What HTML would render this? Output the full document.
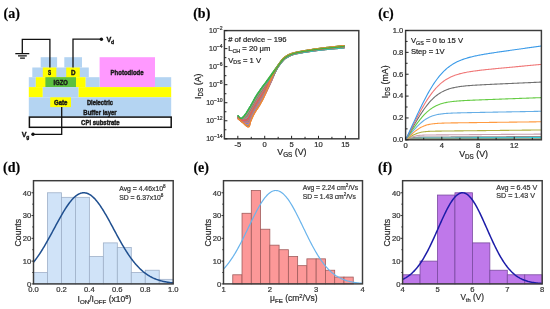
<!DOCTYPE html>
<html><head><meta charset="utf-8"><style>
html,body{margin:0;padding:0;background:#fff;width:550px;height:309px;overflow:hidden}
svg{display:block;will-change:transform}
text{stroke:#2a2a2a;stroke-width:0.22px}
text.b{stroke:#1a1a1a;stroke-width:0.45px}
text.v{stroke:#111;stroke-width:0.35px}
</style></head><body>
<svg width="550" height="309" viewBox="0 0 550 309">
<rect width="550" height="309" fill="#fff"/>
<text x="3.50" y="18.10" font-size="14" text-anchor="start" font-weight="bold" fill="#000" font-family='"Liberation Serif", serif' >(a)</text>
<text x="193.20" y="18.20" font-size="14" text-anchor="start" font-weight="bold" fill="#000" font-family='"Liberation Serif", serif' >(b)</text>
<text x="378.20" y="18.20" font-size="14" text-anchor="start" font-weight="bold" fill="#000" font-family='"Liberation Serif", serif' >(c)</text>
<text x="3.10" y="171.60" font-size="14" text-anchor="start" font-weight="bold" fill="#000" font-family='"Liberation Serif", serif' >(d)</text>
<text x="193.40" y="171.70" font-size="14" text-anchor="start" font-weight="bold" fill="#000" font-family='"Liberation Serif", serif' >(e)</text>
<text x="378.10" y="171.70" font-size="14" text-anchor="start" font-weight="bold" fill="#000" font-family='"Liberation Serif", serif' >(f)</text>
<rect x="40.70" y="57.20" width="16.40" height="10.30" fill="#b4d4f2" />
<rect x="64.30" y="57.20" width="17.70" height="10.30" fill="#b4d4f2" />
<rect x="99.60" y="57.20" width="55.40" height="29.90" fill="#ff99ff" />
<rect x="32.30" y="67.50" width="56.50" height="9.70" fill="#b4d4f2" />
<rect x="42.80" y="67.50" width="13.50" height="9.70" fill="#ffff00" />
<rect x="66.20" y="67.50" width="13.60" height="9.70" fill="#ffff00" />
<rect x="28.80" y="77.20" width="7.00" height="9.90" fill="#b4d4f2" />
<rect x="35.80" y="77.20" width="49.90" height="9.90" fill="#ffff00" />
<rect x="45.40" y="77.20" width="30.60" height="9.90" fill="#5cc040" />
<rect x="85.70" y="77.20" width="13.90" height="9.90" fill="#b4d4f2" />
<rect x="155.00" y="77.20" width="16.20" height="9.90" fill="#b4d4f2" />
<rect x="28.80" y="87.10" width="14.00" height="10.20" fill="#ffff00" />
<rect x="42.80" y="87.10" width="35.80" height="10.20" fill="#b4d4f2" />
<rect x="78.60" y="87.10" width="92.60" height="10.20" fill="#ffff00" />
<rect x="28.80" y="97.30" width="142.40" height="19.50" fill="#b4d4f2" />
<rect x="50.20" y="97.30" width="20.80" height="9.80" fill="#ffff00" />
<rect x="29.4" y="117.1" width="141.8" height="10.2" fill="#fff" stroke="#111" stroke-width="1.5"/>
<path d="M22.3,53.7 L22.3,39.3 L49.9,39.3 L49.9,67.5" stroke="#111" stroke-width="1.3" fill="none"/>
<path d="M15.3,53.7 L29.3,53.7 M18.0,55.9 L26.8,55.9 M20.1,58.1 L24.9,58.1" stroke="#111" stroke-width="1.3" fill="none"/>
<path d="M73.0,67.5 L73.0,39.2 L101.4,39.2" stroke="#111" stroke-width="1.3" fill="none"/>
<circle cx="101.4" cy="39.2" r="1.7" fill="#111"/>
<path d="M61.7,107.1 L61.7,134.3 L33.0,134.3" stroke="#111" stroke-width="1.3" fill="none"/>
<circle cx="33.0" cy="134.3" r="1.7" fill="#111"/>
<text x="106.40" y="41.80" font-size="7.2" text-anchor="start" font-weight="bold" fill="#111" font-family='"Liberation Sans", sans-serif' class="v">V</text>
<text x="111.00" y="43.70" font-size="5.0" text-anchor="start" font-weight="bold" fill="#111" font-family='"Liberation Sans", sans-serif' class="v">d</text>
<text x="21.80" y="137.00" font-size="7.2" text-anchor="start" font-weight="bold" fill="#111" font-family='"Liberation Sans", sans-serif' class="v">V</text>
<text x="26.30" y="139.00" font-size="5.0" text-anchor="start" font-weight="bold" fill="#111" font-family='"Liberation Sans", sans-serif' class="v">g</text>
<text x="48.00" y="74.50" font-size="6.6" text-anchor="start" font-weight="bold" fill="#1a1a1a" font-family='"Liberation Sans", sans-serif' textLength="3.1" lengthAdjust="spacingAndGlyphs" class="b">S</text>
<text x="71.00" y="74.50" font-size="6.6" text-anchor="start" font-weight="bold" fill="#1a1a1a" font-family='"Liberation Sans", sans-serif' textLength="4.5" lengthAdjust="spacingAndGlyphs" class="b">D</text>
<text x="53.60" y="84.80" font-size="6.6" text-anchor="start" font-weight="bold" fill="#1a1a1a" font-family='"Liberation Sans", sans-serif' textLength="14.2" lengthAdjust="spacingAndGlyphs" class="b">IGZO</text>
<text x="54.00" y="104.80" font-size="6.6" text-anchor="start" font-weight="bold" fill="#1a1a1a" font-family='"Liberation Sans", sans-serif' textLength="13.4" lengthAdjust="spacingAndGlyphs" class="b">Gate</text>
<text x="110.60" y="75.10" font-size="7.2" text-anchor="start" font-weight="bold" fill="#1a1a1a" font-family='"Liberation Sans", sans-serif' textLength="33.0" lengthAdjust="spacingAndGlyphs" class="b">Photodiode</text>
<text x="86.90" y="104.80" font-size="6.8" text-anchor="start" font-weight="bold" fill="#1a1a1a" font-family='"Liberation Sans", sans-serif' textLength="26.2" lengthAdjust="spacingAndGlyphs" class="b">Dielectric</text>
<text x="83.30" y="115.00" font-size="6.8" text-anchor="start" font-weight="bold" fill="#1a1a1a" font-family='"Liberation Sans", sans-serif' textLength="33.4" lengthAdjust="spacingAndGlyphs" class="b">Buffer layer</text>
<text x="81.10" y="124.90" font-size="6.8" text-anchor="start" font-weight="bold" fill="#1a1a1a" font-family='"Liberation Sans", sans-serif' textLength="38.5" lengthAdjust="spacingAndGlyphs" class="b">CPI substrate</text>
<g fill="none" stroke-width="1.3" stroke-linejoin="round">
<path d="M237.80,118.50 L238.59,119.16 L239.37,119.82 L240.16,120.47 L240.95,121.13 L241.74,121.78 L242.54,122.43 L243.33,123.08 L244.09,123.77 L244.82,124.48 L245.56,125.20 L246.32,125.89 L247.13,126.52 L248.04,126.97 L248.96,126.70 L249.46,125.81 L249.75,124.83 L249.98,123.83 L250.22,122.83 L250.50,121.85 L250.85,120.88 L251.25,119.94 L251.65,119.00 L252.06,118.05 L252.48,117.12 L252.91,116.19 L253.36,115.27 L253.83,114.36 L254.33,113.46 L254.84,112.57 L255.38,111.70 L255.93,110.83 L256.49,109.98 L257.06,109.12 L257.63,108.27 L258.19,107.41 L258.75,106.55 L259.30,105.68 L259.84,104.81 L260.36,103.93 L260.86,103.03 L261.36,102.14 L261.85,101.24 L262.33,100.33 L262.80,99.42 L263.26,98.50 L263.72,97.59 L264.18,96.67 L264.63,95.75 L265.08,94.83 L265.53,93.90 L265.98,92.98 L266.42,92.06 L266.86,91.13 L267.30,90.20 L267.74,89.27 L268.17,88.34 L268.60,87.41 L269.03,86.48 L269.46,85.55 L269.89,84.62 L270.32,83.69 L270.75,82.76 L271.17,81.82 L271.58,80.88 L271.99,79.94 L272.38,78.99 L272.77,78.05 L273.16,77.10 L273.55,76.15 L273.95,75.20 L274.34,74.26 L274.75,73.31 L275.17,72.38 L275.60,71.45 L276.05,70.53 L276.53,69.62 L277.03,68.73 L277.57,67.85 L278.12,66.99 L278.70,66.14 L279.29,65.30 L279.90,64.48 L280.52,63.66 L281.16,62.86 L281.81,62.06 L282.46,61.27 L283.12,60.49 L283.80,59.72 L284.54,59.01 L285.40,58.46 L286.30,57.96 L287.17,57.42 L288.05,56.90 L288.94,56.39 L289.85,55.91 L290.78,55.48 L291.73,55.10 L292.70,54.76 L293.68,54.44 L294.66,54.16 L295.66,53.92 L296.66,53.71 L297.67,53.51 L298.68,53.33 L299.69,53.15 L300.70,52.98 L301.71,52.81 L302.73,52.65 L303.74,52.48 L304.75,52.32 L305.76,52.16 L306.78,52.01 L307.79,51.85 L308.81,51.70 L309.82,51.55 L310.84,51.40 L311.85,51.26 L312.87,51.12 L313.88,50.98 L314.90,50.84 L315.92,50.71 L316.93,50.58 L317.95,50.45 L318.97,50.32 L319.99,50.20 L321.01,50.09 L322.03,49.97 L323.05,49.86 L324.07,49.75 L325.09,49.65 L326.11,49.55 L327.13,49.45 L328.15,49.35 L329.17,49.25 L330.19,49.15 L331.21,49.05 L332.23,48.96 L333.25,48.86 L334.27,48.77 L335.30,48.68 L336.32,48.59 L337.34,48.49 L338.36,48.40 L339.38,48.31 L340.40,48.22 L341.43,48.13 L342.45,48.03 L343.47,47.94 L344.49,47.85" stroke="#e87830"/>
<path d="M237.80,118.35 L238.58,119.02 L239.35,119.68 L240.13,120.34 L240.91,121.00 L241.71,121.63 L242.51,122.23 L243.30,122.82 L244.05,123.45 L244.78,124.10 L245.51,124.75 L246.26,125.37 L247.06,125.94 L247.95,126.34 L248.86,126.04 L249.36,125.16 L249.66,124.18 L249.91,123.19 L250.15,122.20 L250.44,121.22 L250.80,120.27 L251.20,119.33 L251.61,118.39 L252.02,117.46 L252.44,116.53 L252.88,115.60 L253.33,114.68 L253.80,113.78 L254.29,112.88 L254.80,112.00 L255.34,111.12 L255.88,110.26 L256.44,109.40 L257.00,108.55 L257.57,107.70 L258.13,106.84 L258.69,105.99 L259.24,105.13 L259.77,104.26 L260.29,103.38 L260.80,102.49 L261.30,101.60 L261.79,100.70 L262.27,99.80 L262.75,98.90 L263.22,97.99 L263.68,97.08 L264.14,96.16 L264.60,95.25 L265.06,94.34 L265.51,93.42 L265.96,92.51 L266.41,91.59 L266.85,90.67 L267.30,89.75 L267.74,88.83 L268.18,87.90 L268.62,86.98 L269.05,86.06 L269.49,85.13 L269.92,84.21 L270.35,83.28 L270.79,82.36 L271.22,81.43 L271.64,80.50 L272.05,79.56 L272.45,78.63 L272.85,77.69 L273.25,76.74 L273.64,75.80 L274.04,74.86 L274.45,73.93 L274.86,72.99 L275.29,72.06 L275.72,71.14 L276.18,70.23 L276.66,69.33 L277.17,68.44 L277.70,67.57 L278.26,66.71 L278.84,65.87 L279.43,65.03 L280.04,64.21 L280.66,63.41 L281.30,62.61 L281.96,61.82 L282.62,61.05 L283.29,60.28 L283.97,59.52 L284.71,58.82 L285.58,58.28 L286.47,57.78 L287.35,57.26 L288.23,56.74 L289.12,56.24 L290.03,55.78 L290.96,55.35 L291.91,54.98 L292.87,54.64 L293.85,54.33 L294.83,54.05 L295.82,53.82 L296.83,53.61 L297.83,53.41 L298.83,53.23 L299.84,53.05 L300.85,52.88 L301.86,52.71 L302.87,52.55 L303.88,52.38 L304.89,52.22 L305.90,52.06 L306.91,51.91 L307.92,51.75 L308.93,51.60 L309.94,51.45 L310.95,51.31 L311.96,51.16 L312.97,51.02 L313.99,50.88 L315.00,50.75 L316.01,50.61 L317.03,50.48 L318.04,50.35 L319.06,50.23 L320.07,50.10 L321.09,49.99 L322.10,49.87 L323.12,49.77 L324.14,49.66 L325.15,49.55 L326.17,49.45 L327.19,49.35 L328.20,49.25 L329.22,49.15 L330.24,49.05 L331.26,48.95 L332.27,48.86 L333.29,48.76 L334.31,48.67 L335.33,48.58 L336.35,48.48 L337.36,48.39 L338.38,48.30 L339.40,48.21 L340.42,48.12 L341.44,48.02 L342.46,47.93 L343.47,47.84 L344.49,47.74" stroke="#a070d0"/>
<path d="M237.80,118.21 L238.57,118.88 L239.33,119.55 L240.10,120.21 L240.88,120.87 L241.68,121.48 L242.48,122.03 L243.27,122.57 L244.02,123.13 L244.74,123.72 L245.47,124.30 L246.21,124.86 L246.99,125.36 L247.87,125.70 L248.76,125.38 L249.26,124.51 L249.57,123.54 L249.83,122.56 L250.08,121.58 L250.38,120.60 L250.75,119.65 L251.16,118.72 L251.57,117.79 L251.98,116.86 L252.40,115.93 L252.84,115.01 L253.29,114.10 L253.76,113.20 L254.25,112.30 L254.76,111.42 L255.29,110.55 L255.83,109.69 L256.39,108.83 L256.95,107.98 L257.51,107.13 L258.07,106.28 L258.62,105.43 L259.17,104.57 L259.71,103.70 L260.23,102.83 L260.74,101.94 L261.24,101.06 L261.73,100.17 L262.22,99.27 L262.70,98.37 L263.17,97.47 L263.64,96.57 L264.10,95.66 L264.57,94.76 L265.03,93.85 L265.49,92.94 L265.94,92.03 L266.40,91.12 L266.85,90.21 L267.29,89.29 L267.74,88.38 L268.18,87.46 L268.63,86.55 L269.07,85.63 L269.51,84.71 L269.95,83.80 L270.39,82.88 L270.83,81.96 L271.26,81.04 L271.69,80.12 L272.11,79.19 L272.52,78.26 L272.92,77.33 L273.33,76.39 L273.73,75.46 L274.14,74.53 L274.55,73.60 L274.97,72.67 L275.40,71.75 L275.85,70.84 L276.31,69.93 L276.79,69.04 L277.31,68.15 L277.84,67.29 L278.40,66.44 L278.98,65.60 L279.57,64.77 L280.18,63.95 L280.81,63.15 L281.45,62.36 L282.11,61.59 L282.78,60.82 L283.45,60.06 L284.14,59.32 L284.89,58.63 L285.75,58.09 L286.64,57.61 L287.52,57.09 L288.40,56.58 L289.29,56.09 L290.20,55.64 L291.13,55.22 L292.08,54.85 L293.04,54.52 L294.02,54.22 L295.00,53.95 L295.99,53.71 L296.99,53.50 L297.99,53.31 L298.99,53.13 L299.99,52.95 L301.00,52.78 L302.00,52.61 L303.01,52.45 L304.01,52.28 L305.02,52.12 L306.03,51.96 L307.03,51.81 L308.04,51.66 L309.05,51.50 L310.06,51.36 L311.06,51.21 L312.07,51.07 L313.08,50.92 L314.09,50.78 L315.10,50.65 L316.11,50.51 L317.12,50.38 L318.13,50.25 L319.14,50.13 L320.15,50.01 L321.17,49.89 L322.18,49.78 L323.19,49.67 L324.21,49.56 L325.22,49.45 L326.23,49.35 L327.25,49.25 L328.26,49.15 L329.27,49.05 L330.29,48.95 L331.30,48.86 L332.32,48.76 L333.33,48.66 L334.35,48.57 L335.36,48.48 L336.38,48.38 L337.39,48.29 L338.41,48.20 L339.42,48.10 L340.43,48.01 L341.45,47.92 L342.46,47.83 L343.48,47.73 L344.49,47.64" stroke="#f05a5a"/>
<path d="M237.80,118.06 L238.56,118.74 L239.31,119.41 L240.07,120.08 L240.84,120.74 L241.65,121.33 L242.45,121.84 L243.24,122.31 L243.98,122.82 L244.70,123.33 L245.42,123.85 L246.15,124.34 L246.92,124.78 L247.79,125.07 L248.66,124.73 L249.16,123.85 L249.48,122.89 L249.75,121.92 L250.02,120.95 L250.32,119.98 L250.70,119.04 L251.11,118.11 L251.52,117.19 L251.94,116.26 L252.37,115.34 L252.80,114.43 L253.26,113.52 L253.73,112.62 L254.21,111.72 L254.72,110.84 L255.25,109.98 L255.79,109.12 L256.33,108.26 L256.89,107.41 L257.45,106.56 L258.00,105.71 L258.56,104.86 L259.11,104.01 L259.64,103.15 L260.16,102.28 L260.68,101.40 L261.18,100.52 L261.68,99.63 L262.17,98.74 L262.65,97.85 L263.12,96.96 L263.60,96.06 L264.07,95.16 L264.53,94.26 L265.00,93.36 L265.46,92.46 L265.92,91.55 L266.38,90.65 L266.84,89.74 L267.29,88.84 L267.74,87.93 L268.19,87.02 L268.64,86.11 L269.09,85.20 L269.53,84.29 L269.98,83.38 L270.42,82.47 L270.87,81.56 L271.31,80.65 L271.74,79.73 L272.17,78.81 L272.58,77.89 L273.00,76.97 L273.41,76.04 L273.82,75.12 L274.24,74.19 L274.66,73.27 L275.08,72.35 L275.52,71.44 L275.97,70.53 L276.44,69.63 L276.93,68.74 L277.44,67.87 L277.98,67.01 L278.54,66.16 L279.12,65.33 L279.71,64.50 L280.32,63.69 L280.95,62.89 L281.60,62.12 L282.26,61.35 L282.93,60.60 L283.61,59.85 L284.31,59.12 L285.06,58.44 L285.92,57.91 L286.82,57.43 L287.69,56.92 L288.57,56.42 L289.47,55.94 L290.38,55.50 L291.31,55.09 L292.25,54.73 L293.22,54.41 L294.19,54.11 L295.17,53.84 L296.15,53.61 L297.15,53.40 L298.15,53.21 L299.14,53.03 L300.14,52.85 L301.15,52.68 L302.15,52.51 L303.15,52.35 L304.15,52.18 L305.15,52.02 L306.16,51.87 L307.16,51.71 L308.16,51.56 L309.17,51.41 L310.17,51.26 L311.18,51.11 L312.18,50.97 L313.19,50.83 L314.20,50.69 L315.20,50.55 L316.21,50.42 L317.22,50.29 L318.22,50.16 L319.23,50.03 L320.24,49.91 L321.25,49.79 L322.26,49.68 L323.27,49.57 L324.28,49.46 L325.29,49.36 L326.30,49.25 L327.31,49.15 L328.32,49.05 L329.33,48.95 L330.34,48.85 L331.35,48.76 L332.36,48.66 L333.37,48.56 L334.38,48.47 L335.39,48.38 L336.40,48.28 L337.42,48.19 L338.43,48.10 L339.44,48.00 L340.45,47.91 L341.46,47.82 L342.47,47.72 L343.48,47.63 L344.49,47.53" stroke="#40a0d0"/>
<path d="M237.80,117.92 L238.54,118.60 L239.28,119.28 L240.03,119.95 L240.81,120.61 L241.62,121.18 L242.42,121.64 L243.21,122.06 L243.95,122.50 L244.66,122.95 L245.37,123.40 L246.09,123.83 L246.86,124.21 L247.70,124.44 L248.56,124.07 L249.06,123.20 L249.39,122.25 L249.67,121.28 L249.95,120.32 L250.27,119.36 L250.64,118.43 L251.06,117.50 L251.48,116.58 L251.90,115.66 L252.33,114.75 L252.77,113.84 L253.22,112.93 L253.69,112.04 L254.17,111.15 L254.68,110.27 L255.20,109.40 L255.74,108.54 L256.28,107.69 L256.83,106.84 L257.39,106.00 L257.94,105.15 L258.49,104.30 L259.04,103.45 L259.58,102.59 L260.10,101.72 L260.61,100.85 L261.12,99.98 L261.62,99.10 L262.11,98.22 L262.60,97.33 L263.08,96.44 L263.56,95.55 L264.03,94.66 L264.50,93.77 L264.97,92.87 L265.44,91.98 L265.91,91.08 L266.37,90.18 L266.83,89.28 L267.29,88.38 L267.74,87.48 L268.20,86.58 L268.65,85.68 L269.11,84.78 L269.56,83.87 L270.01,82.97 L270.46,82.07 L270.91,81.16 L271.35,80.26 L271.79,79.35 L272.22,78.44 L272.65,77.52 L273.07,76.61 L273.49,75.69 L273.91,74.77 L274.33,73.86 L274.76,72.94 L275.19,72.03 L275.64,71.13 L276.09,70.23 L276.57,69.33 L277.06,68.45 L277.58,67.58 L278.12,66.73 L278.68,65.89 L279.26,65.06 L279.85,64.24 L280.46,63.43 L281.09,62.64 L281.74,61.87 L282.41,61.12 L283.09,60.37 L283.77,59.63 L284.48,58.92 L285.23,58.25 L286.10,57.73 L286.99,57.25 L287.87,56.75 L288.75,56.26 L289.64,55.80 L290.55,55.36 L291.48,54.96 L292.43,54.61 L293.39,54.29 L294.36,54.00 L295.33,53.74 L296.32,53.51 L297.31,53.30 L298.30,53.11 L299.30,52.93 L300.30,52.75 L301.29,52.58 L302.29,52.41 L303.29,52.25 L304.29,52.09 L305.29,51.93 L306.29,51.77 L307.29,51.61 L308.29,51.46 L309.29,51.31 L310.29,51.16 L311.29,51.01 L312.29,50.87 L313.30,50.73 L314.30,50.59 L315.30,50.45 L316.31,50.32 L317.31,50.19 L318.31,50.06 L319.32,49.94 L320.32,49.81 L321.33,49.70 L322.33,49.58 L323.34,49.47 L324.35,49.36 L325.35,49.26 L326.36,49.15 L327.37,49.05 L328.37,48.95 L329.38,48.85 L330.39,48.75 L331.40,48.66 L332.40,48.56 L333.41,48.46 L334.42,48.37 L335.43,48.27 L336.43,48.18 L337.44,48.09 L338.45,47.99 L339.46,47.90 L340.47,47.81 L341.47,47.71 L342.48,47.62 L343.49,47.53 L344.50,47.43" stroke="#e0a020"/>
<path d="M237.80,117.77 L238.53,118.46 L239.26,119.14 L240.00,119.82 L240.77,120.48 L241.59,121.03 L242.40,121.44 L243.18,121.81 L243.91,122.18 L244.62,122.57 L245.32,122.95 L246.04,123.31 L246.79,123.63 L247.62,123.80 L248.45,123.41 L248.96,122.54 L249.30,121.60 L249.59,120.65 L249.88,119.69 L250.21,118.74 L250.59,117.81 L251.01,116.90 L251.43,115.98 L251.86,115.07 L252.29,114.16 L252.73,113.25 L253.19,112.35 L253.65,111.46 L254.13,110.57 L254.64,109.69 L255.16,108.83 L255.69,107.97 L256.23,107.12 L256.78,106.27 L257.33,105.43 L257.88,104.58 L258.43,103.74 L258.98,102.89 L259.51,102.04 L260.03,101.17 L260.55,100.31 L261.06,99.44 L261.56,98.57 L262.06,97.69 L262.55,96.81 L263.03,95.93 L263.51,95.04 L263.99,94.16 L264.47,93.27 L264.94,92.38 L265.42,91.49 L265.89,90.60 L266.35,89.71 L266.82,88.82 L267.28,87.93 L267.74,87.03 L268.20,86.14 L268.66,85.24 L269.12,84.35 L269.58,83.45 L270.04,82.56 L270.49,81.66 L270.95,80.76 L271.40,79.87 L271.85,78.96 L272.28,78.06 L272.72,77.15 L273.14,76.25 L273.57,75.34 L274.00,74.43 L274.43,73.52 L274.87,72.62 L275.31,71.71 L275.76,70.81 L276.22,69.92 L276.70,69.04 L277.19,68.16 L277.71,67.30 L278.25,66.45 L278.82,65.61 L279.39,64.79 L279.99,63.97 L280.60,63.17 L281.23,62.38 L281.89,61.62 L282.56,60.88 L283.24,60.14 L283.94,59.42 L284.65,58.71 L285.41,58.06 L286.27,57.54 L287.16,57.07 L288.04,56.58 L288.92,56.11 L289.82,55.65 L290.73,55.22 L291.66,54.83 L292.60,54.49 L293.56,54.18 L294.53,53.89 L295.50,53.63 L296.48,53.40 L297.47,53.20 L298.46,53.01 L299.45,52.83 L300.45,52.65 L301.44,52.48 L302.44,52.31 L303.43,52.15 L304.43,51.99 L305.42,51.83 L306.42,51.67 L307.42,51.51 L308.41,51.36 L309.41,51.21 L310.41,51.06 L311.41,50.92 L312.41,50.77 L313.40,50.63 L314.40,50.49 L315.40,50.36 L316.40,50.22 L317.40,50.09 L318.40,49.96 L319.40,49.84 L320.41,49.72 L321.41,49.60 L322.41,49.48 L323.41,49.38 L324.42,49.27 L325.42,49.16 L326.42,49.06 L327.43,48.95 L328.43,48.85 L329.43,48.75 L330.44,48.65 L331.44,48.56 L332.45,48.46 L333.45,48.36 L334.45,48.27 L335.46,48.17 L336.46,48.08 L337.47,47.98 L338.47,47.89 L339.48,47.80 L340.48,47.70 L341.49,47.61 L342.49,47.52 L343.49,47.42 L344.50,47.33" stroke="#d070c0"/>
<path d="M237.80,117.63 L238.52,118.32 L239.24,119.01 L239.97,119.69 L240.74,120.35 L241.56,120.88 L242.37,121.24 L243.14,121.55 L243.87,121.87 L244.58,122.19 L245.27,122.50 L245.98,122.80 L246.72,123.05 L247.54,123.17 L248.35,122.75 L248.86,121.89 L249.20,120.96 L249.51,120.01 L249.82,119.06 L250.15,118.12 L250.54,117.20 L250.97,116.29 L251.39,115.38 L251.82,114.47 L252.25,113.56 L252.70,112.66 L253.15,111.77 L253.62,110.87 L254.10,109.99 L254.60,109.12 L255.11,108.26 L255.64,107.40 L256.18,106.55 L256.72,105.70 L257.27,104.86 L257.82,104.02 L258.37,103.18 L258.91,102.33 L259.45,101.48 L259.97,100.62 L260.49,99.76 L261.00,98.90 L261.50,98.03 L262.00,97.16 L262.50,96.29 L262.99,95.41 L263.47,94.53 L263.95,93.65 L264.44,92.77 L264.92,91.89 L265.39,91.01 L265.87,90.13 L266.34,89.24 L266.81,88.36 L267.28,87.47 L267.75,86.59 L268.21,85.70 L268.68,84.81 L269.14,83.92 L269.60,83.03 L270.07,82.14 L270.53,81.25 L270.99,80.37 L271.45,79.47 L271.90,78.58 L272.34,77.68 L272.78,76.79 L273.22,75.89 L273.65,74.99 L274.09,74.09 L274.53,73.19 L274.97,72.29 L275.42,71.39 L275.87,70.50 L276.34,69.62 L276.82,68.74 L277.33,67.87 L277.85,67.01 L278.39,66.17 L278.95,65.34 L279.53,64.51 L280.13,63.70 L280.74,62.90 L281.37,62.12 L282.03,61.38 L282.71,60.64 L283.40,59.92 L284.10,59.21 L284.82,58.51 L285.58,57.87 L286.44,57.36 L287.33,56.90 L288.21,56.42 L289.10,55.95 L289.99,55.50 L290.90,55.08 L291.83,54.71 L292.77,54.37 L293.73,54.06 L294.69,53.78 L295.67,53.52 L296.65,53.30 L297.63,53.10 L298.62,52.91 L299.61,52.73 L300.60,52.55 L301.59,52.38 L302.58,52.21 L303.57,52.05 L304.56,51.89 L305.56,51.73 L306.55,51.57 L307.54,51.41 L308.54,51.26 L309.53,51.11 L310.53,50.96 L311.52,50.82 L312.52,50.67 L313.51,50.53 L314.51,50.39 L315.50,50.26 L316.50,50.12 L317.50,49.99 L318.49,49.86 L319.49,49.74 L320.49,49.62 L321.49,49.50 L322.49,49.39 L323.49,49.28 L324.49,49.17 L325.49,49.06 L326.49,48.96 L327.49,48.86 L328.49,48.75 L329.49,48.65 L330.49,48.56 L331.49,48.46 L332.49,48.36 L333.49,48.26 L334.49,48.17 L335.49,48.07 L336.49,47.98 L337.49,47.88 L338.49,47.79 L339.49,47.70 L340.50,47.60 L341.50,47.51 L342.50,47.41 L343.50,47.32 L344.50,47.22" stroke="#5080e0"/>
<path d="M237.80,117.48 L238.51,118.18 L239.22,118.88 L239.94,119.56 L240.70,120.21 L241.52,120.73 L242.34,121.05 L243.11,121.30 L243.84,121.55 L244.54,121.80 L245.23,122.05 L245.93,122.28 L246.66,122.47 L247.45,122.53 L248.25,122.10 L248.75,121.24 L249.11,120.31 L249.43,119.37 L249.75,118.43 L250.09,117.50 L250.49,116.58 L250.92,115.68 L251.35,114.77 L251.78,113.87 L252.22,112.97 L252.66,112.07 L253.12,111.18 L253.58,110.29 L254.06,109.41 L254.55,108.54 L255.07,107.68 L255.59,106.83 L256.12,105.98 L256.66,105.14 L257.21,104.29 L257.75,103.45 L258.30,102.62 L258.84,101.77 L259.38,100.93 L259.91,100.07 L260.42,99.22 L260.94,98.36 L261.45,97.50 L261.95,96.63 L262.45,95.76 L262.94,94.90 L263.43,94.02 L263.92,93.15 L264.40,92.28 L264.89,91.41 L265.37,90.53 L265.85,89.65 L266.33,88.78 L266.80,87.90 L267.27,87.02 L267.75,86.14 L268.22,85.26 L268.69,84.38 L269.16,83.50 L269.63,82.61 L270.09,81.73 L270.56,80.85 L271.03,79.97 L271.49,79.08 L271.95,78.20 L272.40,77.31 L272.85,76.42 L273.29,75.53 L273.74,74.63 L274.18,73.74 L274.62,72.85 L275.07,71.96 L275.53,71.07 L275.99,70.19 L276.47,69.31 L276.95,68.44 L277.46,67.58 L277.98,66.73 L278.53,65.89 L279.09,65.06 L279.67,64.24 L280.27,63.44 L280.88,62.64 L281.51,61.87 L282.18,61.13 L282.86,60.41 L283.56,59.69 L284.26,58.99 L284.98,58.31 L285.75,57.68 L286.61,57.18 L287.50,56.72 L288.38,56.25 L289.27,55.79 L290.17,55.35 L291.08,54.95 L292.01,54.58 L292.95,54.24 L293.90,53.95 L294.86,53.67 L295.83,53.42 L296.81,53.19 L297.79,52.99 L298.78,52.81 L299.76,52.63 L300.75,52.45 L301.74,52.28 L302.72,52.11 L303.71,51.95 L304.70,51.79 L305.69,51.63 L306.68,51.47 L307.67,51.32 L308.66,51.16 L309.65,51.01 L310.64,50.87 L311.63,50.72 L312.63,50.58 L313.62,50.44 L314.61,50.30 L315.60,50.16 L316.60,50.03 L317.59,49.90 L318.58,49.77 L319.58,49.64 L320.57,49.52 L321.57,49.41 L322.56,49.29 L323.56,49.18 L324.56,49.07 L325.55,48.97 L326.55,48.86 L327.55,48.76 L328.54,48.66 L329.54,48.56 L330.54,48.46 L331.53,48.36 L332.53,48.26 L333.53,48.16 L334.53,48.07 L335.52,47.97 L336.52,47.88 L337.52,47.78 L338.52,47.69 L339.51,47.59 L340.51,47.50 L341.51,47.40 L342.51,47.31 L343.50,47.21 L344.50,47.12" stroke="#ff6080"/>
<path d="M237.80,117.34 L238.50,118.04 L239.20,118.74 L239.91,119.43 L240.66,120.08 L241.49,120.58 L242.31,120.85 L243.08,121.04 L243.80,121.23 L244.49,121.42 L245.18,121.60 L245.87,121.77 L246.59,121.89 L247.37,121.90 L248.15,121.44 L248.65,120.58 L249.02,119.66 L249.36,118.73 L249.68,117.80 L250.04,116.88 L250.44,115.97 L250.87,115.07 L251.30,114.17 L251.74,113.27 L252.18,112.38 L252.63,111.49 L253.08,110.60 L253.54,109.71 L254.02,108.84 L254.51,107.97 L255.02,107.11 L255.54,106.26 L256.07,105.41 L256.60,104.57 L257.15,103.73 L257.69,102.89 L258.24,102.05 L258.78,101.21 L259.31,100.37 L259.84,99.52 L260.36,98.67 L260.88,97.82 L261.39,96.96 L261.89,96.10 L262.39,95.24 L262.89,94.38 L263.39,93.52 L263.88,92.65 L264.37,91.78 L264.86,90.92 L265.35,90.05 L265.83,89.18 L266.31,88.31 L266.79,87.44 L267.27,86.56 L267.75,85.69 L268.23,84.82 L268.70,83.94 L269.18,83.07 L269.65,82.19 L270.12,81.32 L270.60,80.44 L271.07,79.57 L271.54,78.69 L272.00,77.81 L272.46,76.93 L272.92,76.05 L273.37,75.17 L273.82,74.28 L274.27,73.40 L274.72,72.51 L275.18,71.63 L275.64,70.75 L276.11,69.88 L276.59,69.01 L277.08,68.14 L277.59,67.29 L278.12,66.44 L278.67,65.61 L279.23,64.79 L279.81,63.97 L280.41,63.17 L281.02,62.38 L281.65,61.61 L282.32,60.88 L283.01,60.17 L283.71,59.47 L284.42,58.78 L285.15,58.11 L285.93,57.49 L286.79,56.99 L287.68,56.54 L288.56,56.08 L289.44,55.63 L290.34,55.21 L291.25,54.81 L292.18,54.45 L293.12,54.12 L294.07,53.83 L295.03,53.56 L296.00,53.31 L296.97,53.09 L297.95,52.89 L298.93,52.70 L299.92,52.52 L300.90,52.35 L301.88,52.18 L302.87,52.01 L303.85,51.85 L304.84,51.69 L305.83,51.53 L306.81,51.37 L307.80,51.22 L308.79,51.07 L309.77,50.91 L310.76,50.77 L311.75,50.62 L312.74,50.48 L313.73,50.34 L314.71,50.20 L315.70,50.06 L316.69,49.93 L317.68,49.80 L318.67,49.67 L319.67,49.55 L320.66,49.42 L321.65,49.31 L322.64,49.19 L323.63,49.08 L324.63,48.97 L325.62,48.87 L326.61,48.76 L327.61,48.66 L328.60,48.56 L329.59,48.46 L330.59,48.36 L331.58,48.26 L332.57,48.16 L333.57,48.06 L334.56,47.97 L335.56,47.87 L336.55,47.78 L337.54,47.68 L338.54,47.59 L339.53,47.49 L340.53,47.40 L341.52,47.30 L342.52,47.21 L343.51,47.11 L344.50,47.01" stroke="#a0b030"/>
<path d="M237.80,117.19 L238.49,117.90 L239.17,118.61 L239.88,119.30 L240.63,119.95 L241.46,120.43 L242.28,120.65 L243.05,120.79 L243.77,120.91 L244.45,121.04 L245.13,121.15 L245.81,121.25 L246.52,121.31 L247.29,121.26 L248.05,120.78 L248.55,119.93 L248.93,119.02 L249.28,118.10 L249.62,117.17 L249.98,116.26 L250.39,115.35 L250.82,114.46 L251.26,113.57 L251.70,112.68 L252.14,111.79 L252.59,110.90 L253.05,110.01 L253.51,109.13 L253.98,108.26 L254.47,107.39 L254.98,106.53 L255.49,105.68 L256.02,104.84 L256.55,104.00 L257.09,103.16 L257.63,102.32 L258.17,101.49 L258.71,100.66 L259.25,99.82 L259.78,98.97 L260.30,98.13 L260.82,97.28 L261.33,96.43 L261.84,95.58 L262.34,94.72 L262.85,93.86 L263.34,93.01 L263.84,92.15 L264.34,91.29 L264.83,90.43 L265.32,89.57 L265.81,88.70 L266.30,87.84 L266.78,86.97 L267.27,86.11 L267.75,85.24 L268.23,84.38 L268.71,83.51 L269.19,82.64 L269.67,81.77 L270.15,80.91 L270.63,80.04 L271.11,79.17 L271.58,78.30 L272.06,77.43 L272.52,76.56 L272.98,75.68 L273.44,74.81 L273.90,73.93 L274.36,73.05 L274.82,72.18 L275.28,71.30 L275.75,70.43 L276.23,69.57 L276.71,68.70 L277.21,67.84 L277.72,66.99 L278.26,66.16 L278.80,65.33 L279.37,64.51 L279.95,63.70 L280.55,62.91 L281.16,62.12 L281.79,61.36 L282.47,60.63 L283.17,59.93 L283.87,59.24 L284.59,58.57 L285.32,57.91 L286.10,57.30 L286.96,56.81 L287.85,56.36 L288.73,55.91 L289.62,55.47 L290.52,55.06 L291.43,54.67 L292.35,54.32 L293.29,54.00 L294.25,53.71 L295.20,53.45 L296.17,53.20 L297.14,52.99 L298.11,52.79 L299.09,52.60 L300.07,52.42 L301.05,52.25 L302.03,52.08 L303.01,51.91 L304.00,51.75 L304.98,51.59 L305.96,51.43 L306.94,51.27 L307.93,51.12 L308.91,50.97 L309.89,50.82 L310.88,50.67 L311.86,50.52 L312.85,50.38 L313.83,50.24 L314.82,50.10 L315.80,49.97 L316.79,49.83 L317.78,49.70 L318.77,49.57 L319.75,49.45 L320.74,49.33 L321.73,49.21 L322.72,49.10 L323.71,48.99 L324.70,48.88 L325.69,48.77 L326.68,48.67 L327.67,48.56 L328.66,48.46 L329.65,48.36 L330.64,48.26 L331.63,48.16 L332.62,48.06 L333.61,47.96 L334.60,47.87 L335.59,47.77 L336.58,47.67 L337.57,47.58 L338.56,47.48 L339.55,47.39 L340.54,47.29 L341.53,47.20 L342.52,47.10 L343.51,47.01 L344.50,46.91" stroke="#9060d0"/>
<path d="M237.80,117.05 L238.48,117.75 L239.15,118.47 L239.85,119.17 L240.59,119.82 L241.43,120.28 L242.25,120.45 L243.02,120.53 L243.73,120.60 L244.41,120.66 L245.08,120.70 L245.76,120.74 L246.45,120.73 L247.20,120.63 L247.95,120.12 L248.45,119.27 L248.84,118.37 L249.20,117.46 L249.55,116.54 L249.92,115.64 L250.34,114.74 L250.78,113.85 L251.22,112.96 L251.66,112.08 L252.11,111.20 L252.55,110.31 L253.01,109.43 L253.47,108.55 L253.94,107.68 L254.43,106.82 L254.93,105.96 L255.44,105.11 L255.96,104.27 L256.49,103.43 L257.03,102.59 L257.57,101.76 L258.11,100.93 L258.65,100.10 L259.18,99.26 L259.71,98.42 L260.24,97.58 L260.76,96.74 L261.27,95.90 L261.78,95.05 L262.29,94.20 L262.80,93.35 L263.30,92.50 L263.80,91.65 L264.30,90.79 L264.80,89.94 L265.30,89.08 L265.79,88.23 L266.28,87.37 L266.77,86.51 L267.26,85.65 L267.75,84.79 L268.24,83.94 L268.73,83.08 L269.21,82.21 L269.70,81.35 L270.18,80.49 L270.66,79.63 L271.15,78.77 L271.63,77.91 L272.11,77.05 L272.58,76.18 L273.05,75.31 L273.51,74.45 L273.98,73.58 L274.45,72.71 L274.92,71.84 L275.39,70.98 L275.86,70.11 L276.34,69.25 L276.84,68.40 L277.34,67.55 L277.86,66.70 L278.39,65.87 L278.94,65.05 L279.51,64.24 L280.09,63.43 L280.69,62.64 L281.30,61.86 L281.93,61.10 L282.62,60.39 L283.32,59.70 L284.03,59.02 L284.75,58.35 L285.49,57.71 L286.27,57.11 L287.13,56.63 L288.02,56.19 L288.90,55.74 L289.79,55.32 L290.69,54.91 L291.60,54.53 L292.53,54.19 L293.47,53.88 L294.42,53.60 L295.37,53.34 L296.34,53.10 L297.30,52.88 L298.28,52.69 L299.25,52.50 L300.23,52.32 L301.20,52.15 L302.18,51.98 L303.16,51.81 L304.14,51.65 L305.12,51.49 L306.09,51.33 L307.07,51.17 L308.05,51.02 L309.03,50.87 L310.01,50.72 L311.00,50.57 L311.98,50.43 L312.96,50.28 L313.94,50.14 L314.92,50.00 L315.91,49.87 L316.89,49.73 L317.87,49.60 L318.86,49.48 L319.84,49.35 L320.82,49.23 L321.81,49.11 L322.79,49.00 L323.78,48.89 L324.77,48.78 L325.75,48.67 L326.74,48.57 L327.73,48.46 L328.71,48.36 L329.70,48.26 L330.69,48.16 L331.67,48.06 L332.66,47.96 L333.65,47.86 L334.63,47.77 L335.62,47.67 L336.61,47.57 L337.60,47.48 L338.58,47.38 L339.57,47.29 L340.56,47.19 L341.54,47.09 L342.53,47.00 L343.52,46.90 L344.51,46.80" stroke="#f08040"/>
<path d="M237.80,116.90 L238.47,117.61 L239.13,118.34 L239.81,119.04 L240.56,119.69 L241.40,120.13 L242.23,120.26 L242.99,120.28 L243.70,120.28 L244.37,120.27 L245.03,120.26 L245.70,120.22 L246.39,120.16 L247.12,119.99 L247.85,119.46 L248.35,118.62 L248.75,117.73 L249.12,116.82 L249.48,115.92 L249.87,115.01 L250.29,114.12 L250.73,113.24 L251.17,112.36 L251.62,111.48 L252.07,110.60 L252.52,109.72 L252.98,108.85 L253.44,107.97 L253.91,107.10 L254.39,106.24 L254.89,105.39 L255.39,104.54 L255.91,103.70 L256.43,102.86 L256.97,102.03 L257.50,101.20 L258.04,100.37 L258.58,99.54 L259.12,98.71 L259.65,97.87 L260.17,97.04 L260.70,96.20 L261.21,95.36 L261.73,94.52 L262.24,93.68 L262.75,92.83 L263.26,91.99 L263.77,91.14 L264.27,90.30 L264.77,89.45 L265.28,88.60 L265.77,87.75 L266.27,86.90 L266.77,86.05 L267.26,85.20 L267.75,84.35 L268.25,83.49 L268.74,82.64 L269.23,81.79 L269.72,80.93 L270.21,80.08 L270.70,79.23 L271.19,78.37 L271.68,77.52 L272.16,76.66 L272.64,75.81 L273.11,74.95 L273.59,74.09 L274.06,73.23 L274.54,72.37 L275.01,71.51 L275.49,70.65 L275.97,69.79 L276.46,68.94 L276.96,68.09 L277.47,67.25 L277.99,66.41 L278.53,65.58 L279.08,64.77 L279.65,63.96 L280.23,63.16 L280.83,62.37 L281.43,61.59 L282.08,60.84 L282.76,60.14 L283.47,59.46 L284.18,58.79 L284.91,58.14 L285.66,57.51 L286.45,56.93 L287.31,56.44 L288.19,56.01 L289.08,55.58 L289.97,55.16 L290.87,54.76 L291.78,54.39 L292.70,54.06 L293.64,53.76 L294.59,53.48 L295.54,53.23 L296.50,52.99 L297.47,52.78 L298.44,52.58 L299.41,52.40 L300.38,52.22 L301.35,52.05 L302.33,51.88 L303.30,51.71 L304.28,51.55 L305.25,51.39 L306.23,51.23 L307.21,51.08 L308.18,50.92 L309.16,50.77 L310.14,50.62 L311.11,50.47 L312.09,50.33 L313.07,50.18 L314.05,50.04 L315.03,49.91 L316.01,49.77 L316.99,49.64 L317.97,49.51 L318.95,49.38 L319.93,49.26 L320.91,49.13 L321.89,49.02 L322.87,48.90 L323.85,48.79 L324.84,48.68 L325.82,48.57 L326.80,48.47 L327.79,48.36 L328.77,48.26 L329.75,48.16 L330.74,48.06 L331.72,47.96 L332.70,47.86 L333.69,47.76 L334.67,47.67 L335.65,47.57 L336.64,47.47 L337.62,47.37 L338.61,47.28 L339.59,47.18 L340.57,47.09 L341.56,46.99 L342.54,46.90 L343.52,46.80 L344.51,46.70" stroke="#30b0a0"/>
<path d="M237.80,116.75 L238.46,117.47 L239.11,118.20 L239.78,118.91 L240.52,119.56 L241.37,119.98 L242.20,120.06 L242.96,120.02 L243.66,119.96 L244.33,119.89 L244.99,119.81 L245.64,119.71 L246.32,119.58 L247.03,119.36 L247.74,118.81 L248.25,117.97 L248.66,117.08 L249.04,116.18 L249.42,115.29 L249.81,114.39 L250.23,113.51 L250.68,112.63 L251.13,111.76 L251.58,110.88 L252.03,110.01 L252.48,109.14 L252.94,108.26 L253.40,107.39 L253.87,106.53 L254.35,105.67 L254.84,104.81 L255.34,103.97 L255.86,103.12 L256.38,102.29 L256.91,101.46 L257.44,100.63 L257.98,99.81 L258.52,98.98 L259.05,98.15 L259.58,97.32 L260.11,96.49 L260.63,95.66 L261.16,94.83 L261.68,93.99 L262.19,93.16 L262.71,92.32 L263.22,91.48 L263.73,90.64 L264.24,89.80 L264.75,88.96 L265.25,88.12 L265.76,87.28 L266.26,86.43 L266.76,85.59 L267.26,84.74 L267.75,83.90 L268.25,83.05 L268.75,82.21 L269.25,81.36 L269.74,80.51 L270.24,79.67 L270.73,78.82 L271.23,77.98 L271.72,77.13 L272.21,76.28 L272.70,75.43 L273.18,74.58 L273.66,73.73 L274.14,72.87 L274.63,72.02 L275.11,71.17 L275.59,70.32 L276.08,69.47 L276.58,68.63 L277.08,67.79 L277.60,66.95 L278.12,66.12 L278.66,65.30 L279.22,64.49 L279.79,63.68 L280.37,62.89 L280.97,62.11 L281.57,61.33 L282.22,60.59 L282.91,59.89 L283.62,59.22 L284.34,58.57 L285.08,57.92 L285.83,57.31 L286.62,56.74 L287.48,56.26 L288.37,55.83 L289.25,55.41 L290.14,55.00 L291.04,54.61 L291.95,54.25 L292.88,53.93 L293.81,53.63 L294.76,53.37 L295.71,53.12 L296.67,52.89 L297.63,52.68 L298.60,52.48 L299.57,52.30 L300.54,52.12 L301.51,51.95 L302.48,51.78 L303.45,51.62 L304.42,51.45 L305.39,51.29 L306.36,51.13 L307.34,50.98 L308.31,50.82 L309.28,50.67 L310.26,50.52 L311.23,50.37 L312.21,50.23 L313.18,50.09 L314.16,49.95 L315.13,49.81 L316.11,49.67 L317.08,49.54 L318.06,49.41 L319.04,49.28 L320.01,49.16 L320.99,49.04 L321.97,48.92 L322.95,48.80 L323.93,48.69 L324.91,48.58 L325.89,48.48 L326.87,48.37 L327.84,48.27 L328.82,48.16 L329.80,48.06 L330.78,47.96 L331.76,47.86 L332.75,47.76 L333.73,47.66 L334.71,47.56 L335.69,47.47 L336.67,47.37 L337.65,47.27 L338.63,47.18 L339.61,47.08 L340.59,46.98 L341.57,46.89 L342.55,46.79 L343.53,46.69 L344.51,46.60" stroke="#60c040"/>
<path d="M237.80,116.61 L238.45,117.33 L239.09,118.07 L239.75,118.78 L240.49,119.43 L241.34,119.83 L242.17,119.86 L242.93,119.77 L243.62,119.64 L244.29,119.51 L244.94,119.36 L245.59,119.19 L246.25,119.00 L246.95,118.73 L247.64,118.15 L248.15,117.31 L248.57,116.43 L248.96,115.55 L249.35,114.66 L249.75,113.77 L250.18,112.90 L250.63,112.03 L251.08,111.16 L251.54,110.29 L251.99,109.42 L252.45,108.55 L252.90,107.68 L253.36,106.81 L253.83,105.95 L254.31,105.09 L254.80,104.24 L255.29,103.39 L255.80,102.55 L256.32,101.72 L256.85,100.89 L257.38,100.07 L257.91,99.24 L258.45,98.42 L258.99,97.60 L259.52,96.77 L260.05,95.95 L260.57,95.12 L261.10,94.29 L261.62,93.46 L262.14,92.63 L262.66,91.80 L263.18,90.97 L263.69,90.14 L264.20,89.31 L264.72,88.47 L265.23,87.64 L265.74,86.80 L266.24,85.97 L266.75,85.13 L267.25,84.29 L267.76,83.45 L268.26,82.61 L268.76,81.77 L269.26,80.93 L269.77,80.10 L270.27,79.26 L270.77,78.42 L271.27,77.58 L271.77,76.74 L272.26,75.90 L272.76,75.05 L273.25,74.21 L273.74,73.37 L274.23,72.52 L274.72,71.68 L275.21,70.84 L275.70,69.99 L276.19,69.15 L276.70,68.32 L277.21,67.48 L277.72,66.65 L278.25,65.83 L278.80,65.01 L279.36,64.21 L279.93,63.41 L280.51,62.62 L281.11,61.84 L281.71,61.07 L282.36,60.33 L283.05,59.65 L283.77,58.99 L284.50,58.34 L285.24,57.71 L286.00,57.10 L286.79,56.55 L287.65,56.08 L288.54,55.66 L289.42,55.24 L290.31,54.84 L291.21,54.47 L292.13,54.12 L293.05,53.80 L293.99,53.51 L294.93,53.25 L295.88,53.00 L296.84,52.78 L297.80,52.57 L298.76,52.38 L299.72,52.20 L300.69,52.02 L301.66,51.85 L302.62,51.68 L303.59,51.52 L304.56,51.35 L305.53,51.19 L306.50,51.03 L307.47,50.88 L308.44,50.72 L309.41,50.57 L310.38,50.42 L311.35,50.28 L312.32,50.13 L313.29,49.99 L314.26,49.85 L315.23,49.71 L316.21,49.58 L317.18,49.44 L318.15,49.31 L319.13,49.18 L320.10,49.06 L321.08,48.94 L322.05,48.82 L323.03,48.71 L324.00,48.60 L324.98,48.49 L325.95,48.38 L326.93,48.27 L327.90,48.17 L328.88,48.07 L329.86,47.96 L330.83,47.86 L331.81,47.76 L332.79,47.66 L333.76,47.56 L334.74,47.46 L335.72,47.37 L336.70,47.27 L337.67,47.17 L338.65,47.07 L339.63,46.98 L340.60,46.88 L341.58,46.79 L342.56,46.69 L343.53,46.59 L344.51,46.49" stroke="#e05050"/>
<path d="M237.80,116.46 L238.44,117.19 L239.06,117.94 L239.72,118.65 L240.45,119.30 L241.31,119.68 L242.14,119.66 L242.90,119.51 L243.59,119.33 L244.25,119.12 L244.89,118.91 L245.53,118.68 L246.19,118.42 L246.87,118.09 L247.54,117.49 L248.05,116.66 L248.48,115.79 L248.88,114.91 L249.28,114.03 L249.69,113.15 L250.13,112.28 L250.59,111.42 L251.04,110.55 L251.50,109.69 L251.96,108.83 L252.41,107.96 L252.87,107.10 L253.33,106.23 L253.79,105.37 L254.27,104.51 L254.75,103.66 L255.25,102.82 L255.75,101.98 L256.26,101.15 L256.79,100.32 L257.31,99.50 L257.85,98.68 L258.39,97.86 L258.92,97.04 L259.45,96.22 L259.98,95.40 L260.51,94.58 L261.04,93.76 L261.57,92.94 L262.09,92.11 L262.61,91.29 L263.13,90.46 L263.65,89.64 L264.17,88.81 L264.69,87.98 L265.20,87.16 L265.72,86.33 L266.23,85.50 L266.74,84.67 L267.25,83.83 L267.76,83.00 L268.27,82.17 L268.77,81.34 L269.28,80.51 L269.79,79.68 L270.30,78.84 L270.80,78.01 L271.31,77.18 L271.81,76.35 L272.32,75.51 L272.82,74.68 L273.31,73.84 L273.81,73.01 L274.31,72.17 L274.80,71.33 L275.30,70.50 L275.80,69.67 L276.31,68.83 L276.81,68.00 L277.33,67.18 L277.85,66.35 L278.39,65.54 L278.93,64.73 L279.49,63.93 L280.07,63.13 L280.65,62.35 L281.25,61.58 L281.85,60.81 L282.50,60.08 L283.20,59.40 L283.92,58.75 L284.65,58.12 L285.40,57.50 L286.17,56.90 L286.97,56.36 L287.83,55.89 L288.71,55.48 L289.60,55.07 L290.49,54.68 L291.39,54.32 L292.30,53.98 L293.23,53.67 L294.16,53.39 L295.10,53.13 L296.05,52.89 L297.00,52.67 L297.96,52.47 L298.92,52.28 L299.88,52.10 L300.84,51.92 L301.81,51.75 L302.77,51.58 L303.74,51.42 L304.70,51.25 L305.67,51.09 L306.63,50.93 L307.60,50.78 L308.56,50.63 L309.53,50.47 L310.50,50.33 L311.47,50.18 L312.43,50.03 L313.40,49.89 L314.37,49.75 L315.34,49.61 L316.31,49.48 L317.28,49.34 L318.25,49.22 L319.22,49.09 L320.19,48.96 L321.16,48.84 L322.13,48.73 L323.10,48.61 L324.07,48.50 L325.05,48.39 L326.02,48.28 L326.99,48.18 L327.96,48.07 L328.94,47.97 L329.91,47.86 L330.88,47.76 L331.86,47.66 L332.83,47.56 L333.80,47.46 L334.78,47.36 L335.75,47.27 L336.72,47.17 L337.70,47.07 L338.67,46.97 L339.65,46.88 L340.62,46.78 L341.59,46.68 L342.57,46.58 L343.54,46.49 L344.51,46.39" stroke="#8060e0"/>
<path d="M237.80,116.32 L238.43,117.05 L239.04,117.80 L239.69,118.52 L240.42,119.17 L241.28,119.53 L242.11,119.47 L242.86,119.26 L243.55,119.01 L244.21,118.74 L244.84,118.46 L245.48,118.16 L246.12,117.84 L246.78,117.46 L247.44,116.83 L247.95,116.00 L248.39,115.14 L248.80,114.27 L249.22,113.40 L249.64,112.53 L250.08,111.67 L250.54,110.81 L251.00,109.95 L251.46,109.09 L251.92,108.23 L252.38,107.37 L252.83,106.51 L253.29,105.65 L253.75,104.79 L254.22,103.94 L254.71,103.09 L255.20,102.25 L255.70,101.41 L256.21,100.58 L256.73,99.76 L257.25,98.94 L257.79,98.12 L258.32,97.30 L258.86,96.49 L259.39,95.67 L259.92,94.86 L260.45,94.04 L260.98,93.23 L261.51,92.41 L262.04,91.59 L262.57,90.77 L263.09,89.95 L263.62,89.14 L264.14,88.32 L264.66,87.50 L265.18,86.67 L265.70,85.85 L266.22,85.03 L266.73,84.20 L267.24,83.38 L267.76,82.56 L268.27,81.73 L268.79,80.91 L269.30,80.08 L269.81,79.26 L270.32,78.43 L270.84,77.61 L271.35,76.78 L271.86,75.96 L272.37,75.13 L272.88,74.30 L273.38,73.47 L273.88,72.65 L274.39,71.82 L274.89,70.99 L275.40,70.16 L275.91,69.34 L276.42,68.51 L276.93,67.69 L277.45,66.87 L277.98,66.06 L278.52,65.25 L279.07,64.44 L279.63,63.65 L280.20,62.86 L280.79,62.08 L281.39,61.31 L281.99,60.55 L282.64,59.82 L283.34,59.15 L284.07,58.51 L284.81,57.89 L285.56,57.28 L286.33,56.70 L287.14,56.17 L288.00,55.71 L288.88,55.30 L289.77,54.90 L290.66,54.52 L291.56,54.17 L292.48,53.84 L293.40,53.54 L294.34,53.27 L295.28,53.02 L296.22,52.78 L297.17,52.57 L298.12,52.37 L299.08,52.18 L300.04,51.99 L301.00,51.82 L301.96,51.65 L302.92,51.48 L303.88,51.32 L304.84,51.15 L305.80,50.99 L306.77,50.84 L307.73,50.68 L308.69,50.53 L309.66,50.38 L310.62,50.23 L311.58,50.08 L312.55,49.94 L313.51,49.79 L314.48,49.65 L315.44,49.52 L316.41,49.38 L317.37,49.25 L318.34,49.12 L319.31,48.99 L320.27,48.87 L321.24,48.74 L322.21,48.63 L323.18,48.51 L324.15,48.40 L325.12,48.29 L326.09,48.18 L327.05,48.08 L328.02,47.97 L328.99,47.87 L329.96,47.77 L330.93,47.66 L331.90,47.56 L332.87,47.46 L333.84,47.36 L334.81,47.26 L335.78,47.16 L336.75,47.07 L337.72,46.97 L338.69,46.87 L339.66,46.77 L340.63,46.68 L341.60,46.58 L342.57,46.48 L343.55,46.38 L344.52,46.28" stroke="#f0a030"/>
<path d="M237.80,116.17 L238.42,116.91 L239.02,117.67 L239.66,118.39 L240.38,119.04 L241.25,119.38 L242.09,119.27 L242.83,119.01 L243.52,118.69 L244.17,118.36 L244.79,118.01 L245.42,117.65 L246.05,117.26 L246.70,116.82 L247.34,116.17 L247.85,115.35 L248.30,114.50 L248.73,113.64 L249.15,112.77 L249.58,111.91 L250.03,111.05 L250.49,110.20 L250.95,109.35 L251.42,108.49 L251.88,107.64 L252.34,106.79 L252.80,105.93 L253.26,105.07 L253.72,104.21 L254.18,103.36 L254.66,102.52 L255.15,101.68 L255.64,100.84 L256.15,100.01 L256.67,99.19 L257.19,98.37 L257.72,97.56 L258.26,96.75 L258.79,95.93 L259.32,95.12 L259.86,94.31 L260.39,93.50 L260.93,92.69 L261.46,91.88 L261.99,91.07 L262.52,90.26 L263.05,89.45 L263.58,88.63 L264.11,87.82 L264.63,87.01 L265.16,86.19 L265.68,85.38 L266.20,84.56 L266.72,83.74 L267.24,82.93 L267.76,82.11 L268.28,81.29 L268.80,80.47 L269.32,79.65 L269.83,78.84 L270.35,78.02 L270.87,77.20 L271.39,76.38 L271.91,75.56 L272.42,74.75 L272.94,73.93 L273.45,73.11 L273.96,72.29 L274.47,71.47 L274.98,70.65 L275.50,69.83 L276.01,69.01 L276.53,68.19 L277.05,67.38 L277.58,66.57 L278.11,65.76 L278.65,64.95 L279.20,64.16 L279.77,63.37 L280.34,62.58 L280.93,61.81 L281.53,61.04 L282.13,60.28 L282.78,59.56 L283.49,58.91 L284.22,58.28 L284.97,57.66 L285.73,57.07 L286.50,56.50 L287.31,55.98 L288.17,55.53 L289.05,55.12 L289.94,54.74 L290.84,54.37 L291.74,54.02 L292.65,53.70 L293.58,53.41 L294.51,53.15 L295.45,52.90 L296.39,52.67 L297.34,52.46 L298.29,52.26 L299.24,52.07 L300.20,51.89 L301.15,51.72 L302.11,51.55 L303.07,51.38 L304.03,51.22 L304.98,51.05 L305.94,50.89 L306.90,50.74 L307.86,50.58 L308.82,50.43 L309.78,50.28 L310.74,50.13 L311.70,49.98 L312.66,49.84 L313.62,49.70 L314.58,49.56 L315.55,49.42 L316.51,49.28 L317.47,49.15 L318.43,49.02 L319.40,48.89 L320.36,48.77 L321.33,48.65 L322.29,48.53 L323.26,48.42 L324.22,48.30 L325.19,48.19 L326.15,48.09 L327.12,47.98 L328.08,47.87 L329.05,47.77 L330.02,47.67 L330.98,47.56 L331.95,47.46 L332.92,47.36 L333.88,47.26 L334.85,47.16 L335.82,47.06 L336.78,46.96 L337.75,46.87 L338.72,46.77 L339.68,46.67 L340.65,46.57 L341.62,46.48 L342.58,46.38 L343.55,46.28 L344.52,46.18" stroke="#40b0b0"/>
<path d="M237.80,116.03 L238.41,116.77 L239.00,117.53 L239.63,118.26 L240.35,118.91 L241.21,119.23 L242.06,119.07 L242.80,118.75 L243.48,118.38 L244.12,117.98 L244.75,117.56 L245.36,117.13 L245.99,116.69 L246.62,116.19 L247.24,115.52 L247.75,114.70 L248.21,113.85 L248.65,113.00 L249.08,112.14 L249.52,111.29 L249.98,110.44 L250.44,109.59 L250.91,108.74 L251.38,107.90 L251.84,107.05 L252.31,106.20 L252.76,105.34 L253.22,104.49 L253.68,103.64 L254.14,102.79 L254.62,101.94 L255.10,101.10 L255.59,100.27 L256.09,99.44 L256.61,98.62 L257.13,97.81 L257.66,96.99 L258.19,96.19 L258.73,95.38 L259.26,94.57 L259.80,93.77 L260.33,92.96 L260.87,92.16 L261.40,91.35 L261.94,90.55 L262.47,89.74 L263.01,88.94 L263.54,88.13 L264.07,87.33 L264.60,86.52 L265.13,85.71 L265.66,84.90 L266.19,84.09 L266.71,83.28 L267.24,82.47 L267.76,81.66 L268.29,80.85 L268.81,80.04 L269.33,79.23 L269.86,78.42 L270.38,77.61 L270.91,76.79 L271.43,75.98 L271.95,75.17 L272.47,74.36 L272.99,73.55 L273.51,72.74 L274.03,71.93 L274.55,71.11 L275.07,70.30 L275.59,69.49 L276.12,68.68 L276.64,67.87 L277.17,67.07 L277.70,66.26 L278.24,65.46 L278.78,64.66 L279.34,63.87 L279.91,63.09 L280.48,62.31 L281.07,61.54 L281.67,60.78 L282.27,60.02 L282.92,59.31 L283.64,58.66 L284.37,58.04 L285.12,57.44 L285.89,56.85 L286.67,56.30 L287.49,55.79 L288.34,55.34 L289.23,54.95 L290.11,54.57 L291.01,54.21 L291.91,53.87 L292.83,53.56 L293.75,53.28 L294.68,53.02 L295.62,52.79 L296.56,52.56 L297.51,52.35 L298.45,52.16 L299.40,51.97 L300.36,51.79 L301.31,51.62 L302.26,51.45 L303.22,51.28 L304.17,51.12 L305.12,50.95 L306.08,50.79 L307.04,50.64 L307.99,50.48 L308.95,50.33 L309.90,50.18 L310.86,50.03 L311.82,49.88 L312.78,49.74 L313.73,49.60 L314.69,49.46 L315.65,49.32 L316.61,49.19 L317.57,49.05 L318.53,48.92 L319.49,48.79 L320.45,48.67 L321.41,48.55 L322.37,48.43 L323.33,48.32 L324.29,48.21 L325.26,48.10 L326.22,47.99 L327.18,47.88 L328.14,47.78 L329.11,47.67 L330.07,47.57 L331.03,47.46 L332.00,47.36 L332.96,47.26 L333.92,47.16 L334.89,47.06 L335.85,46.96 L336.81,46.86 L337.78,46.77 L338.74,46.67 L339.70,46.57 L340.67,46.47 L341.63,46.37 L342.59,46.27 L343.56,46.17 L344.52,46.07" stroke="#d060a0"/>
<path d="M237.80,115.88 L238.40,116.63 L238.98,117.40 L239.59,118.13 L240.31,118.78 L241.18,119.08 L242.03,118.87 L242.77,118.50 L243.45,118.06 L244.08,117.59 L244.70,117.11 L245.31,116.62 L245.92,116.11 L246.53,115.55 L247.14,114.86 L247.65,114.04 L248.12,113.21 L248.57,112.36 L249.01,111.51 L249.47,110.67 L249.93,109.82 L250.40,108.98 L250.87,108.14 L251.34,107.30 L251.81,106.46 L252.27,105.61 L252.73,104.76 L253.18,103.91 L253.64,103.06 L254.10,102.21 L254.57,101.37 L255.05,100.53 L255.54,99.70 L256.04,98.87 L256.54,98.05 L257.06,97.24 L257.59,96.43 L258.12,95.63 L258.66,94.82 L259.20,94.02 L259.73,93.22 L260.27,92.42 L260.81,91.62 L261.35,90.82 L261.89,90.03 L262.43,89.23 L262.97,88.43 L263.50,87.63 L264.04,86.83 L264.58,86.03 L265.11,85.23 L265.64,84.43 L266.17,83.62 L266.70,82.82 L267.23,82.02 L267.76,81.21 L268.29,80.41 L268.82,79.60 L269.35,78.80 L269.88,78.00 L270.41,77.19 L270.94,76.39 L271.47,75.59 L272.00,74.78 L272.53,73.98 L273.05,73.17 L273.58,72.37 L274.11,71.57 L274.63,70.76 L275.16,69.96 L275.69,69.16 L276.22,68.35 L276.75,67.55 L277.29,66.75 L277.82,65.96 L278.37,65.16 L278.92,64.37 L279.48,63.59 L280.04,62.81 L280.62,62.03 L281.21,61.27 L281.81,60.51 L282.41,59.76 L283.06,59.05 L283.78,58.41 L284.53,57.81 L285.28,57.21 L286.05,56.64 L286.84,56.10 L287.66,55.60 L288.52,55.16 L289.40,54.77 L290.29,54.40 L291.18,54.05 L292.09,53.73 L293.00,53.43 L293.92,53.15 L294.86,52.90 L295.79,52.67 L296.73,52.45 L297.67,52.25 L298.62,52.05 L299.57,51.87 L300.51,51.69 L301.46,51.52 L302.41,51.35 L303.36,51.18 L304.31,51.02 L305.27,50.85 L306.22,50.70 L307.17,50.54 L308.12,50.38 L309.08,50.23 L310.03,50.08 L310.98,49.93 L311.94,49.79 L312.89,49.64 L313.84,49.50 L314.80,49.36 L315.75,49.22 L316.71,49.09 L317.67,48.95 L318.62,48.83 L319.58,48.70 L320.54,48.57 L321.49,48.45 L322.45,48.34 L323.41,48.22 L324.37,48.11 L325.33,48.00 L326.29,47.89 L327.24,47.78 L328.20,47.68 L329.16,47.57 L330.12,47.47 L331.08,47.37 L332.04,47.26 L333.00,47.16 L333.96,47.06 L334.92,46.96 L335.88,46.86 L336.84,46.76 L337.80,46.66 L338.76,46.56 L339.72,46.47 L340.68,46.37 L341.64,46.27 L342.60,46.17 L343.56,46.07 L344.52,45.97" stroke="#50a040"/>
<path d="M237.80,115.74 L238.39,116.49 L238.95,117.26 L239.56,118.00 L240.27,118.65 L241.15,118.93 L242.00,118.68 L242.74,118.24 L243.41,117.74 L244.04,117.21 L244.65,116.66 L245.25,116.10 L245.85,115.53 L246.45,114.92 L247.03,114.20 L247.55,113.39 L248.03,112.56 L248.49,111.72 L248.95,110.89 L249.41,110.05 L249.88,109.21 L250.35,108.37 L250.82,107.54 L251.30,106.70 L251.77,105.86 L252.23,105.02 L252.69,104.18 L253.15,103.33 L253.60,102.48 L254.06,101.64 L254.53,100.80 L255.00,99.96 L255.48,99.13 L255.98,98.30 L256.48,97.49 L257.00,96.68 L257.53,95.87 L258.06,95.07 L258.59,94.27 L259.13,93.47 L259.67,92.68 L260.21,91.88 L260.75,91.09 L261.29,90.30 L261.84,89.50 L262.38,88.71 L262.92,87.92 L263.47,87.13 L264.01,86.33 L264.55,85.54 L265.09,84.75 L265.62,83.95 L266.16,83.16 L266.70,82.36 L267.23,81.56 L267.76,80.76 L268.30,79.97 L268.83,79.17 L269.37,78.37 L269.90,77.58 L270.44,76.78 L270.97,75.98 L271.51,75.19 L272.04,74.39 L272.58,73.59 L273.11,72.80 L273.65,72.00 L274.18,71.21 L274.72,70.41 L275.25,69.62 L275.79,68.82 L276.32,68.03 L276.86,67.23 L277.40,66.44 L277.95,65.65 L278.50,64.86 L279.05,64.08 L279.61,63.30 L280.18,62.53 L280.76,61.76 L281.35,61.00 L281.95,60.24 L282.55,59.50 L283.21,58.80 L283.93,58.16 L284.68,57.57 L285.44,56.99 L286.21,56.43 L287.01,55.90 L287.83,55.41 L288.69,54.98 L289.57,54.59 L290.46,54.23 L291.36,53.89 L292.26,53.58 L293.18,53.29 L294.10,53.02 L295.03,52.78 L295.96,52.55 L296.90,52.34 L297.84,52.14 L298.78,51.95 L299.73,51.77 L300.67,51.59 L301.62,51.42 L302.56,51.25 L303.51,51.08 L304.46,50.92 L305.41,50.76 L306.36,50.60 L307.30,50.44 L308.25,50.28 L309.20,50.13 L310.15,49.98 L311.10,49.83 L312.05,49.69 L313.00,49.54 L313.96,49.40 L314.91,49.26 L315.86,49.12 L316.81,48.99 L317.76,48.86 L318.72,48.73 L319.67,48.60 L320.62,48.48 L321.58,48.36 L322.53,48.24 L323.49,48.12 L324.44,48.01 L325.40,47.90 L326.35,47.79 L327.31,47.69 L328.26,47.58 L329.22,47.47 L330.18,47.37 L331.13,47.27 L332.09,47.16 L333.04,47.06 L334.00,46.96 L334.96,46.86 L335.91,46.76 L336.87,46.66 L337.83,46.56 L338.78,46.46 L339.74,46.36 L340.70,46.26 L341.65,46.17 L342.61,46.07 L343.57,45.97 L344.52,45.86" stroke="#ff7050"/>
<path d="M237.80,115.59 L238.38,116.35 L238.93,117.13 L239.53,117.87 L240.24,118.52 L241.12,118.78 L241.97,118.48 L242.71,117.99 L243.37,117.42 L244.00,116.83 L244.60,116.21 L245.20,115.59 L245.78,114.95 L246.37,114.29 L246.93,113.54 L247.45,112.74 L247.94,111.91 L248.41,111.09 L248.88,110.26 L249.35,109.42 L249.82,108.59 L250.30,107.76 L250.78,106.93 L251.26,106.10 L251.73,105.27 L252.20,104.43 L252.66,103.59 L253.11,102.75 L253.56,101.90 L254.02,101.06 L254.48,100.22 L254.95,99.39 L255.43,98.56 L255.92,97.74 L256.42,96.92 L256.94,96.11 L257.46,95.31 L257.99,94.51 L258.53,93.72 L259.07,92.92 L259.61,92.13 L260.15,91.34 L260.70,90.56 L261.24,89.77 L261.79,88.98 L262.33,88.20 L262.88,87.41 L263.43,86.63 L263.97,85.84 L264.52,85.05 L265.06,84.27 L265.61,83.48 L266.15,82.69 L266.69,81.90 L267.23,81.11 L267.77,80.32 L268.31,79.53 L268.85,78.74 L269.39,77.95 L269.93,77.16 L270.47,76.37 L271.01,75.58 L271.55,74.79 L272.09,74.00 L272.63,73.21 L273.17,72.42 L273.71,71.63 L274.25,70.85 L274.80,70.06 L275.34,69.27 L275.88,68.49 L276.43,67.70 L276.97,66.91 L277.52,66.13 L278.07,65.35 L278.62,64.57 L279.18,63.79 L279.75,63.02 L280.32,62.25 L280.90,61.48 L281.49,60.73 L282.08,59.98 L282.69,59.24 L283.35,58.54 L284.07,57.92 L284.83,57.33 L285.59,56.76 L286.38,56.21 L287.18,55.70 L288.01,55.22 L288.86,54.79 L289.74,54.41 L290.63,54.06 L291.53,53.73 L292.44,53.43 L293.35,53.15 L294.27,52.89 L295.20,52.66 L296.13,52.44 L297.07,52.23 L298.01,52.03 L298.95,51.85 L299.89,51.67 L300.83,51.49 L301.77,51.32 L302.72,51.15 L303.66,50.98 L304.60,50.82 L305.55,50.66 L306.49,50.50 L307.44,50.34 L308.38,50.19 L309.33,50.03 L310.28,49.88 L311.22,49.74 L312.17,49.59 L313.12,49.45 L314.07,49.30 L315.01,49.17 L315.96,49.03 L316.91,48.89 L317.86,48.76 L318.81,48.63 L319.76,48.50 L320.71,48.38 L321.66,48.26 L322.61,48.14 L323.56,48.03 L324.51,47.91 L325.47,47.80 L326.42,47.69 L327.37,47.59 L328.32,47.48 L329.28,47.38 L330.23,47.27 L331.18,47.17 L332.13,47.06 L333.09,46.96 L334.04,46.86 L334.99,46.76 L335.95,46.66 L336.90,46.56 L337.85,46.46 L338.81,46.36 L339.76,46.26 L340.71,46.16 L341.66,46.06 L342.62,45.96 L343.57,45.86 L344.52,45.76" stroke="#7090e0"/>
<path d="M237.80,115.45 L238.37,116.21 L238.91,116.99 L239.50,117.74 L240.20,118.38 L241.09,118.63 L241.94,118.28 L242.68,117.73 L243.34,117.11 L243.96,116.45 L244.55,115.76 L245.14,115.07 L245.72,114.37 L246.28,113.65 L246.83,112.88 L247.35,112.08 L247.84,111.27 L248.33,110.45 L248.81,109.63 L249.29,108.80 L249.77,107.98 L250.25,107.15 L250.74,106.33 L251.22,105.51 L251.69,104.68 L252.16,103.85 L252.62,103.01 L253.07,102.17 L253.52,101.33 L253.98,100.49 L254.43,99.65 L254.90,98.81 L255.38,97.99 L255.87,97.17 L256.36,96.35 L256.88,95.55 L257.40,94.75 L257.93,93.95 L258.46,93.16 L259.00,92.37 L259.54,91.59 L260.09,90.80 L260.64,90.02 L261.19,89.24 L261.74,88.46 L262.29,87.68 L262.84,86.90 L263.39,86.12 L263.94,85.34 L264.49,84.56 L265.04,83.78 L265.59,83.00 L266.13,82.22 L266.68,81.43 L267.22,80.65 L267.77,79.87 L268.31,79.09 L268.86,78.30 L269.40,77.52 L269.95,76.74 L270.50,75.95 L271.04,75.17 L271.59,74.39 L272.14,73.61 L272.68,72.83 L273.23,72.05 L273.78,71.27 L274.33,70.49 L274.88,69.71 L275.43,68.93 L275.98,68.15 L276.53,67.37 L277.08,66.59 L277.64,65.82 L278.19,65.04 L278.75,64.27 L279.32,63.50 L279.88,62.73 L280.46,61.97 L281.04,61.21 L281.63,60.46 L282.22,59.71 L282.83,58.98 L283.49,58.28 L284.22,57.67 L284.98,57.10 L285.75,56.54 L286.54,56.00 L287.35,55.50 L288.18,55.03 L289.04,54.61 L289.91,54.24 L290.81,53.90 L291.70,53.58 L292.61,53.28 L293.53,53.01 L294.45,52.76 L295.38,52.54 L296.31,52.32 L297.24,52.12 L298.17,51.93 L299.11,51.74 L300.05,51.56 L300.99,51.39 L301.93,51.22 L302.87,51.05 L303.81,50.88 L304.75,50.72 L305.69,50.56 L306.63,50.40 L307.57,50.24 L308.52,50.09 L309.46,49.94 L310.40,49.78 L311.34,49.64 L312.29,49.49 L313.23,49.35 L314.18,49.21 L315.12,49.07 L316.07,48.93 L317.01,48.80 L317.96,48.66 L318.90,48.53 L319.85,48.41 L320.80,48.28 L321.74,48.16 L322.69,48.05 L323.64,47.93 L324.59,47.82 L325.54,47.71 L326.49,47.60 L327.43,47.49 L328.38,47.38 L329.33,47.28 L330.28,47.17 L331.23,47.07 L332.18,46.97 L333.13,46.86 L334.08,46.76 L335.03,46.66 L335.98,46.56 L336.93,46.46 L337.88,46.36 L338.83,46.26 L339.78,46.16 L340.73,46.06 L341.68,45.96 L342.63,45.86 L343.58,45.76 L344.53,45.66" stroke="#b0a030"/>
<path d="M237.80,115.30 L238.36,116.07 L238.89,116.86 L239.47,117.61 L240.17,118.25 L241.06,118.48 L241.92,118.08 L242.65,117.48 L243.30,116.79 L243.92,116.06 L244.51,115.31 L245.08,114.56 L245.65,113.79 L246.20,113.02 L246.73,112.23 L247.25,111.43 L247.75,110.62 L248.25,109.81 L248.75,109.00 L249.24,108.18 L249.72,107.36 L250.21,106.55 L250.69,105.73 L251.18,104.91 L251.66,104.09 L252.13,103.26 L252.59,102.43 L253.04,101.59 L253.49,100.75 L253.94,99.91 L254.39,99.07 L254.85,98.24 L255.32,97.42 L255.81,96.60 L256.30,95.78 L256.81,94.98 L257.33,94.18 L257.86,93.39 L258.40,92.61 L258.94,91.82 L259.48,91.04 L260.03,90.26 L260.58,89.49 L261.13,88.71 L261.69,87.94 L262.24,87.17 L262.80,86.39 L263.35,85.62 L263.91,84.85 L264.46,84.08 L265.02,83.30 L265.57,82.53 L266.12,81.75 L266.67,80.97 L267.22,80.20 L267.77,79.42 L268.32,78.64 L268.87,77.87 L269.42,77.09 L269.97,76.32 L270.52,75.54 L271.08,74.77 L271.63,73.99 L272.18,73.22 L272.74,72.44 L273.29,71.67 L273.85,70.90 L274.40,70.13 L274.96,69.35 L275.52,68.58 L276.08,67.81 L276.64,67.04 L277.20,66.27 L277.76,65.50 L278.32,64.74 L278.88,63.97 L279.45,63.21 L280.02,62.44 L280.59,61.69 L281.18,60.93 L281.77,60.19 L282.36,59.45 L282.97,58.71 L283.63,58.03 L284.36,57.42 L285.13,56.86 L285.91,56.31 L286.70,55.79 L287.52,55.29 L288.35,54.84 L289.21,54.43 L290.09,54.06 L290.98,53.73 L291.88,53.42 L292.79,53.13 L293.70,52.87 L294.62,52.63 L295.55,52.41 L296.48,52.21 L297.41,52.01 L298.34,51.82 L299.28,51.64 L300.21,51.46 L301.15,51.29 L302.08,51.11 L303.02,50.95 L303.95,50.78 L304.89,50.62 L305.83,50.46 L306.77,50.30 L307.71,50.14 L308.65,49.99 L309.59,49.84 L310.53,49.69 L311.47,49.54 L312.41,49.39 L313.35,49.25 L314.29,49.11 L315.23,48.97 L316.17,48.83 L317.11,48.70 L318.05,48.57 L319.00,48.44 L319.94,48.31 L320.88,48.19 L321.83,48.06 L322.77,47.95 L323.72,47.83 L324.66,47.72 L325.61,47.61 L326.55,47.50 L327.50,47.39 L328.44,47.28 L329.39,47.18 L330.33,47.07 L331.28,46.97 L332.23,46.87 L333.17,46.76 L334.12,46.66 L335.06,46.56 L336.01,46.46 L336.96,46.36 L337.90,46.26 L338.85,46.16 L339.80,46.06 L340.74,45.96 L341.69,45.86 L342.63,45.76 L343.58,45.65 L344.53,45.55" stroke="#40b850"/>
<path d="M237.80,115.30 L238.36,116.07 L238.89,116.86 L239.47,117.61 L240.17,118.25 L241.06,118.48 L241.92,118.08 L242.65,117.48 L243.30,116.79 L243.92,116.06 L244.51,115.31 L245.08,114.56 L245.65,113.79 L246.20,113.02 L246.73,112.23 L247.25,111.43 L247.75,110.62 L248.25,109.81 L248.75,109.00 L249.24,108.18 L249.72,107.36 L250.21,106.55 L250.69,105.73 L251.18,104.91 L251.66,104.09 L252.13,103.26 L252.59,102.43 L253.04,101.59 L253.49,100.75 L253.94,99.91 L254.39,99.07 L254.85,98.24 L255.32,97.42 L255.81,96.60 L256.30,95.78 L256.81,94.98 L257.33,94.18 L257.86,93.39 L258.40,92.61 L258.94,91.82 L259.48,91.04 L260.03,90.26 L260.58,89.49 L261.13,88.71 L261.69,87.94 L262.24,87.17 L262.80,86.42 L263.36,85.73 L263.92,85.07 L264.48,84.44 L265.04,83.85 L265.60,83.28 L266.15,82.74 L266.69,82.21 L267.23,81.70 L267.76,81.21 L268.29,80.72 L268.80,80.24 L269.31,79.76 L269.81,79.29 L270.30,78.81 L270.78,78.32 L271.24,77.83 L271.70,77.33 L272.14,76.82 L272.56,76.29 L272.97,75.74 L273.37,75.17 L273.75,74.59 L274.12,73.98 L274.48,73.35 L274.84,72.69 L275.20,72.02 L275.56,71.33 L275.94,70.61 L276.33,69.89 L276.75,69.14 L277.19,68.39 L277.67,67.63 L278.19,66.86 L278.73,66.08 L279.30,65.28 L279.90,64.48 L280.52,63.66 L281.16,62.86 L281.81,62.06 L282.46,61.27 L283.12,60.49 L283.80,59.72 L284.54,59.01 L285.40,58.46 L286.30,57.96 L287.17,57.42 L288.05,56.90 L288.94,56.39 L289.85,55.91 L290.78,55.48 L291.73,55.10 L292.70,54.76 L293.68,54.44 L294.66,54.16 L295.66,53.92 L296.66,53.71 L297.67,53.51 L298.68,53.33 L299.69,53.15 L300.70,52.98 L301.71,52.81 L302.73,52.65 L303.74,52.48 L304.75,52.32 L305.76,52.16 L306.78,52.01 L307.79,51.85 L308.81,51.70 L309.82,51.55 L310.84,51.40 L311.85,51.26 L312.87,51.12 L313.88,50.98 L314.90,50.84 L315.92,50.71 L316.93,50.58 L317.95,50.45 L318.97,50.32 L319.99,50.20 L321.01,50.09 L322.03,49.97 L323.05,49.86 L324.07,49.75 L325.09,49.65 L326.11,49.55 L327.13,49.45 L328.15,49.35 L329.17,49.25 L330.19,49.15 L331.21,49.05 L332.23,48.96 L333.25,48.86 L334.27,48.77 L335.30,48.68 L336.32,48.59 L337.34,48.49 L338.36,48.40 L339.38,48.31 L340.40,48.22 L341.43,48.13 L342.45,48.03 L343.47,47.94 L344.49,47.85" stroke="#30c0b0"/>
<path d="M237.80,116.90 L238.47,117.61 L239.13,118.34 L239.81,119.04 L240.56,119.69 L241.40,120.13 L242.23,120.26 L242.99,120.28 L243.70,120.28 L244.37,120.27 L245.03,120.26 L245.70,120.22 L246.39,120.16 L247.12,119.99 L247.85,119.46 L248.35,118.62 L248.75,117.73 L249.12,116.82 L249.48,115.92 L249.87,115.01 L250.29,114.12 L250.73,113.24 L251.17,112.36 L251.62,111.48 L252.07,110.60 L252.52,109.72 L252.98,108.85 L253.44,107.97 L253.91,107.10 L254.39,106.24 L254.89,105.39 L255.39,104.54 L255.91,103.70 L256.43,102.86 L256.97,102.03 L257.50,101.20 L258.04,100.37 L258.58,99.54 L259.12,98.71 L259.65,97.87 L260.17,97.04 L260.70,96.20 L261.21,95.36 L261.73,94.52 L262.24,93.68 L262.75,92.83 L263.26,91.99 L263.77,91.14 L264.27,90.30 L264.77,89.45 L265.28,88.60 L265.77,87.75 L266.27,86.90 L266.77,86.05 L267.26,85.20 L267.75,84.35 L268.25,83.49 L268.74,82.64 L269.23,81.79 L269.72,80.93 L270.21,80.08 L270.70,79.23 L271.19,78.37 L271.68,77.52 L272.16,76.66 L272.64,75.81 L273.11,74.95 L273.59,74.09 L274.06,73.23 L274.54,72.37 L275.01,71.51 L275.49,70.65 L275.97,69.79 L276.46,68.94 L276.96,68.09 L277.47,67.25 L277.99,66.41 L278.53,65.58 L279.08,64.77 L279.65,63.96 L280.23,63.16 L280.83,62.37 L281.43,61.59 L282.08,60.84 L282.76,60.14 L283.47,59.46 L284.18,58.79 L284.91,58.14 L285.66,57.51 L286.45,56.93 L287.31,56.44 L288.19,56.01 L289.08,55.58 L289.97,55.16 L290.87,54.76 L291.78,54.39 L292.70,54.06 L293.64,53.76 L294.59,53.48 L295.54,53.23 L296.50,52.99 L297.47,52.78 L298.44,52.58 L299.41,52.40 L300.38,52.22 L301.35,52.05 L302.33,51.88 L303.30,51.71 L304.28,51.55 L305.25,51.39 L306.23,51.23 L307.21,51.08 L308.18,50.92 L309.16,50.77 L310.14,50.62 L311.11,50.47 L312.09,50.33 L313.07,50.18 L314.05,50.04 L315.03,49.91 L316.01,49.77 L316.99,49.64 L317.97,49.51 L318.95,49.38 L319.93,49.26 L320.91,49.13 L321.89,49.02 L322.87,48.90 L323.85,48.79 L324.84,48.68 L325.82,48.57 L326.80,48.47 L327.79,48.36 L328.77,48.26 L329.75,48.16 L330.74,48.06 L331.72,47.96 L332.70,47.86 L333.69,47.76 L334.67,47.67 L335.65,47.57 L336.64,47.47 L337.62,47.37 L338.61,47.28 L339.59,47.18 L340.57,47.09 L341.56,46.99 L342.54,46.90 L343.52,46.80 L344.51,46.70" stroke="#e85a5a"/>
<path d="M237.80,118.50 L238.59,119.16 L239.37,119.82 L240.16,120.47 L240.95,121.13 L241.74,121.78 L242.54,122.43 L243.33,123.08 L244.09,123.77 L244.82,124.48 L245.56,125.20 L246.32,125.89 L247.13,126.52 L248.04,126.97 L248.96,126.70 L249.46,125.81 L249.75,124.83 L249.98,123.83 L250.22,122.83 L250.50,121.85 L250.85,120.88 L251.25,119.94 L251.65,119.00 L252.06,118.05 L252.48,117.12 L252.91,116.19 L253.36,115.27 L253.83,114.36 L254.33,113.46 L254.84,112.57 L255.38,111.70 L255.93,110.83 L256.49,109.98 L257.06,109.12 L257.63,108.27 L258.19,107.41 L258.75,106.55 L259.30,105.68 L259.84,104.81 L260.36,103.93 L260.86,103.03 L261.36,102.14 L261.85,101.24 L262.33,100.33 L262.80,99.42 L263.26,98.50 L263.72,97.55 L264.17,96.56 L264.62,95.53 L265.06,94.46 L265.51,93.36 L265.95,92.22 L266.39,91.07 L266.84,89.89 L267.29,88.70 L267.74,87.49 L268.20,86.27 L268.67,85.04 L269.14,83.81 L269.63,82.58 L270.12,81.35 L270.62,80.13 L271.13,78.91 L271.65,77.70 L272.18,76.51 L272.72,75.32 L273.26,74.15 L273.81,73.00 L274.38,71.87 L274.95,70.76 L275.54,69.67 L276.14,68.60 L276.75,67.57 L277.36,66.55 L277.98,65.57 L278.61,64.61 L279.23,63.68 L279.86,62.78 L280.49,61.90 L281.11,61.06 L281.74,60.25 L282.35,59.47 L282.97,58.71 L283.63,58.03 L284.36,57.42 L285.13,56.86 L285.91,56.31 L286.70,55.79 L287.52,55.29 L288.35,54.84 L289.21,54.43 L290.09,54.06 L290.98,53.73 L291.88,53.42 L292.79,53.13 L293.70,52.87 L294.62,52.63 L295.55,52.41 L296.48,52.21 L297.41,52.01 L298.34,51.82 L299.28,51.64 L300.21,51.46 L301.15,51.29 L302.08,51.11 L303.02,50.95 L303.95,50.78 L304.89,50.62 L305.83,50.46 L306.77,50.30 L307.71,50.14 L308.65,49.99 L309.59,49.84 L310.53,49.69 L311.47,49.54 L312.41,49.39 L313.35,49.25 L314.29,49.11 L315.23,48.97 L316.17,48.83 L317.11,48.70 L318.05,48.57 L319.00,48.44 L319.94,48.31 L320.88,48.19 L321.83,48.06 L322.77,47.95 L323.72,47.83 L324.66,47.72 L325.61,47.61 L326.55,47.50 L327.50,47.39 L328.44,47.28 L329.39,47.18 L330.33,47.07 L331.28,46.97 L332.23,46.87 L333.17,46.76 L334.12,46.66 L335.06,46.56 L336.01,46.46 L336.96,46.36 L337.90,46.26 L338.85,46.16 L339.80,46.06 L340.74,45.96 L341.69,45.86 L342.63,45.76 L343.58,45.65 L344.53,45.55" stroke="#f08a30"/>
<path d="M237.80,115.30 L238.36,116.07 L238.89,116.86 L239.47,117.61 L240.17,118.25 L241.06,118.48 L241.92,118.08 L242.65,117.48 L243.30,116.79 L243.92,116.06 L244.51,115.31 L245.08,114.56 L245.65,113.79 L246.20,113.02 L246.73,112.23 L247.25,111.43 L247.75,110.62 L248.25,109.81 L248.75,109.00 L249.24,108.18 L249.72,107.36 L250.21,106.55 L250.69,105.73 L251.18,104.91 L251.66,104.09 L252.13,103.26 L252.59,102.43 L253.04,101.59 L253.49,100.75 L253.94,99.91 L254.39,99.07 L254.85,98.24 L255.32,97.42 L255.81,96.60 L256.30,95.78 L256.81,94.98 L257.33,94.18 L257.86,93.39 L258.40,92.61 L258.94,91.82 L259.48,91.04 L260.03,90.26 L260.58,89.49 L261.13,88.71 L261.69,87.94 L262.24,87.17 L262.80,86.40 L263.36,85.66 L263.91,84.92 L264.47,84.20 L265.03,83.49 L265.58,82.79 L266.13,82.10 L266.68,81.41 L267.22,80.72 L267.77,80.05 L268.31,79.37 L268.85,78.70 L269.38,78.03 L269.92,77.36 L270.45,76.68 L270.97,76.01 L271.49,75.34 L272.01,74.66 L272.53,73.98 L273.04,73.29 L273.54,72.59 L274.04,71.89 L274.54,71.19 L275.03,70.47 L275.52,69.75 L276.01,69.02 L276.50,68.29 L276.99,67.54 L277.48,66.79 L277.99,66.04 L278.50,65.28 L279.03,64.53 L279.57,63.77 L280.13,63.01 L280.70,62.25 L281.29,61.49 L281.90,60.73 L282.54,60.00 L283.24,59.33 L283.97,58.68 L284.70,58.05 L285.45,57.43 L286.22,56.84 L287.02,56.30 L287.88,55.84 L288.76,55.42 L289.65,55.02 L290.54,54.64 L291.44,54.27 L292.35,53.94 L293.28,53.63 L294.21,53.35 L295.16,53.10 L296.10,52.86 L297.05,52.64 L298.01,52.44 L298.97,52.25 L299.93,52.07 L300.89,51.89 L301.85,51.72 L302.82,51.55 L303.78,51.39 L304.74,51.22 L305.71,51.06 L306.67,50.90 L307.64,50.75 L308.60,50.60 L309.57,50.44 L310.53,50.30 L311.50,50.15 L312.47,50.00 L313.43,49.86 L314.40,49.72 L315.37,49.58 L316.34,49.45 L317.31,49.32 L318.28,49.19 L319.24,49.06 L320.21,48.93 L321.18,48.81 L322.15,48.70 L323.13,48.58 L324.10,48.47 L325.07,48.36 L326.04,48.25 L327.01,48.15 L327.98,48.04 L328.95,47.94 L329.93,47.83 L330.90,47.73 L331.87,47.63 L332.84,47.53 L333.82,47.43 L334.79,47.33 L335.76,47.23 L336.73,47.14 L337.71,47.04 L338.68,46.94 L339.65,46.85 L340.62,46.75 L341.60,46.65 L342.57,46.55 L343.54,46.46 L344.51,46.36" stroke="#40b040"/>
</g>
<rect x="224.40" y="30.60" width="134.40" height="108.20" stroke="#3c3c3c" stroke-width="1.45" fill="none"/>
<path d="M224.40,138.80 L227.40,138.80 M224.40,129.78 L226.40,129.78 M224.40,120.77 L227.40,120.77 M224.40,111.75 L226.40,111.75 M224.40,102.73 L227.40,102.73 M224.40,93.72 L226.40,93.72 M224.40,84.70 L227.40,84.70 M224.40,75.68 L226.40,75.68 M224.40,66.67 L227.40,66.67 M224.40,57.65 L226.40,57.65 M224.40,48.63 L227.40,48.63 M224.40,39.62 L226.40,39.62 M224.40,30.60 L227.40,30.60 M237.84,138.80 L237.84,135.80 M251.28,138.80 L251.28,136.80 M264.72,138.80 L264.72,135.80 M278.16,138.80 L278.16,136.80 M291.60,138.80 L291.60,135.80 M305.04,138.80 L305.04,136.80 M318.48,138.80 L318.48,135.80 M331.92,138.80 L331.92,136.80 M345.36,138.80 L345.36,135.80" stroke="#222" stroke-width="1"/>
<text x="222.6" y="141.40" font-size="7.0" text-anchor="end" fill="#333" font-family='"Liberation Sans", sans-serif'>10<tspan font-size="5.1" dy="-3.6">&#8722;14</tspan></text>
<text x="222.6" y="123.37" font-size="7.0" text-anchor="end" fill="#333" font-family='"Liberation Sans", sans-serif'>10<tspan font-size="5.1" dy="-3.6">&#8722;12</tspan></text>
<text x="222.6" y="105.33" font-size="7.0" text-anchor="end" fill="#333" font-family='"Liberation Sans", sans-serif'>10<tspan font-size="5.1" dy="-3.6">&#8722;10</tspan></text>
<text x="222.6" y="87.30" font-size="7.0" text-anchor="end" fill="#333" font-family='"Liberation Sans", sans-serif'>10<tspan font-size="5.1" dy="-3.6">&#8722;8</tspan></text>
<text x="222.6" y="69.27" font-size="7.0" text-anchor="end" fill="#333" font-family='"Liberation Sans", sans-serif'>10<tspan font-size="5.1" dy="-3.6">&#8722;6</tspan></text>
<text x="222.6" y="51.23" font-size="7.0" text-anchor="end" fill="#333" font-family='"Liberation Sans", sans-serif'>10<tspan font-size="5.1" dy="-3.6">&#8722;4</tspan></text>
<text x="222.6" y="33.20" font-size="7.0" text-anchor="end" fill="#333" font-family='"Liberation Sans", sans-serif'>10<tspan font-size="5.1" dy="-3.6">&#8722;2</tspan></text>
<text x="237.84" y="147.20" font-size="7.6" text-anchor="middle" font-weight="normal" fill="#333" font-family='"Liberation Sans", sans-serif' >-5</text>
<text x="264.72" y="147.20" font-size="7.6" text-anchor="middle" font-weight="normal" fill="#333" font-family='"Liberation Sans", sans-serif' >0</text>
<text x="291.60" y="147.20" font-size="7.6" text-anchor="middle" font-weight="normal" fill="#333" font-family='"Liberation Sans", sans-serif' >5</text>
<text x="318.48" y="147.20" font-size="7.6" text-anchor="middle" font-weight="normal" fill="#333" font-family='"Liberation Sans", sans-serif' >10</text>
<text x="345.36" y="147.20" font-size="7.6" text-anchor="middle" font-weight="normal" fill="#333" font-family='"Liberation Sans", sans-serif' >15</text>
<text x="277.3" y="155.0" font-size="8.8" fill="#222" font-family='"Liberation Sans", sans-serif'>V<tspan font-size="6.3" dy="2">GS</tspan><tspan dy="-2"> (V)</tspan></text>
<g transform="translate(201.4,86.2) rotate(-90)"><text x="0" y="0" text-anchor="middle" font-size="8.8" fill="#222" font-family='"Liberation Sans", sans-serif'>I<tspan font-size="6.3" dy="2">DS</tspan><tspan dy="-2"> (A)</tspan></text></g>
<text x="228.2" y="41.8" font-size="7.65" fill="#222" font-family='"Liberation Sans", sans-serif'># of device ~ 196</text>
<text x="228.2" y="51.3" font-size="7.65" fill="#222" font-family='"Liberation Sans", sans-serif'>L<tspan font-size="5.4" dy="1.8">CH</tspan><tspan dy="-1.8"> = 20 &#956;m</tspan></text>
<text x="228.2" y="62.5" font-size="7.65" fill="#222" font-family='"Liberation Sans", sans-serif'>V<tspan font-size="5.4" dy="1.8">DS</tspan><tspan dy="-1.8"> = 1 V</tspan></text>
<g fill="none" stroke-width="1.1">
<path d="M405.60,139.80 L406.51,139.60 L407.42,139.39 L408.33,139.20 L409.25,139.03 L410.16,138.89 L411.07,138.78 L411.98,138.70 L412.89,138.64 L413.80,138.60 L414.71,138.57 L415.63,138.55 L416.54,138.54 L417.45,138.53 L418.36,138.53 L419.27,138.52 L420.18,138.52 L421.09,138.52 L422.01,138.52 L422.92,138.52 L423.83,138.51 L424.74,138.51 L425.65,138.51 L426.56,138.51 L427.47,138.51 L428.39,138.50 L429.30,138.50 L430.21,138.50 L431.12,138.50 L432.03,138.50 L432.94,138.49 L433.85,138.49 L434.77,138.49 L435.68,138.49 L436.59,138.49 L437.50,138.48 L438.41,138.48 L439.32,138.48 L440.23,138.48 L441.14,138.48 L442.06,138.48 L442.97,138.47 L443.88,138.47 L444.79,138.47 L445.70,138.47 L446.61,138.47 L447.52,138.46 L448.44,138.46 L449.35,138.46 L450.26,138.46 L451.17,138.46 L452.08,138.45 L452.99,138.45 L453.90,138.45 L454.82,138.45 L455.73,138.45 L456.64,138.45 L457.55,138.44 L458.46,138.44 L459.37,138.44 L460.28,138.44 L461.20,138.44 L462.11,138.43 L463.02,138.43 L463.93,138.43 L464.84,138.43 L465.75,138.43 L466.66,138.42 L467.58,138.42 L468.49,138.42 L469.40,138.42 L470.31,138.42 L471.22,138.42 L472.13,138.41 L473.04,138.41 L473.96,138.41 L474.87,138.41 L475.78,138.41 L476.69,138.40 L477.60,138.40 L478.51,138.40 L479.42,138.40 L480.34,138.40 L481.25,138.39 L482.16,138.39 L483.07,138.39 L483.98,138.39 L484.89,138.39 L485.80,138.38 L486.72,138.38 L487.63,138.38 L488.54,138.38 L489.45,138.38 L490.36,138.38 L491.27,138.37 L492.18,138.37 L493.10,138.37 L494.01,138.37 L494.92,138.37 L495.83,138.36 L496.74,138.36 L497.65,138.36 L498.56,138.36 L499.48,138.36 L500.39,138.35 L501.30,138.35 L502.21,138.35 L503.12,138.35 L504.03,138.35 L504.94,138.35 L505.86,138.34 L506.77,138.34 L507.68,138.34 L508.59,138.34 L509.50,138.34 L510.41,138.33 L511.32,138.33 L512.23,138.33 L513.15,138.33 L514.06,138.33 L514.97,138.32 L515.88,138.32 L516.79,138.32 L517.70,138.32 L518.61,138.32 L519.53,138.32 L520.44,138.31 L521.35,138.31 L522.26,138.31 L523.17,138.31 L524.08,138.31 L524.99,138.30 L525.91,138.30 L526.82,138.30 L527.73,138.30 L528.64,138.30 L529.55,138.29 L530.46,138.29 L531.37,138.29 L532.29,138.29 L533.20,138.29 L534.11,138.28 L535.02,138.28 L535.93,138.28 L536.84,138.28 L537.75,138.28 L538.67,138.28 L539.58,138.27 L540.49,138.27 L541.40,138.27" stroke="#30c8d0"/>
<path d="M405.60,139.80 L406.51,139.54 L407.42,139.28 L408.33,139.03 L409.25,138.79 L410.16,138.58 L411.07,138.39 L411.98,138.24 L412.89,138.12 L413.80,138.02 L414.71,137.95 L415.63,137.90 L416.54,137.87 L417.45,137.84 L418.36,137.82 L419.27,137.81 L420.18,137.80 L421.09,137.79 L422.01,137.79 L422.92,137.78 L423.83,137.78 L424.74,137.78 L425.65,137.77 L426.56,137.77 L427.47,137.77 L428.39,137.76 L429.30,137.76 L430.21,137.76 L431.12,137.75 L432.03,137.75 L432.94,137.75 L433.85,137.75 L434.77,137.74 L435.68,137.74 L436.59,137.74 L437.50,137.73 L438.41,137.73 L439.32,137.73 L440.23,137.72 L441.14,137.72 L442.06,137.72 L442.97,137.72 L443.88,137.71 L444.79,137.71 L445.70,137.71 L446.61,137.70 L447.52,137.70 L448.44,137.70 L449.35,137.69 L450.26,137.69 L451.17,137.69 L452.08,137.69 L452.99,137.68 L453.90,137.68 L454.82,137.68 L455.73,137.67 L456.64,137.67 L457.55,137.67 L458.46,137.67 L459.37,137.66 L460.28,137.66 L461.20,137.66 L462.11,137.65 L463.02,137.65 L463.93,137.65 L464.84,137.64 L465.75,137.64 L466.66,137.64 L467.58,137.64 L468.49,137.63 L469.40,137.63 L470.31,137.63 L471.22,137.62 L472.13,137.62 L473.04,137.62 L473.96,137.61 L474.87,137.61 L475.78,137.61 L476.69,137.61 L477.60,137.60 L478.51,137.60 L479.42,137.60 L480.34,137.59 L481.25,137.59 L482.16,137.59 L483.07,137.59 L483.98,137.58 L484.89,137.58 L485.80,137.58 L486.72,137.57 L487.63,137.57 L488.54,137.57 L489.45,137.56 L490.36,137.56 L491.27,137.56 L492.18,137.56 L493.10,137.55 L494.01,137.55 L494.92,137.55 L495.83,137.54 L496.74,137.54 L497.65,137.54 L498.56,137.53 L499.48,137.53 L500.39,137.53 L501.30,137.53 L502.21,137.52 L503.12,137.52 L504.03,137.52 L504.94,137.51 L505.86,137.51 L506.77,137.51 L507.68,137.51 L508.59,137.50 L509.50,137.50 L510.41,137.50 L511.32,137.49 L512.23,137.49 L513.15,137.49 L514.06,137.48 L514.97,137.48 L515.88,137.48 L516.79,137.48 L517.70,137.47 L518.61,137.47 L519.53,137.47 L520.44,137.46 L521.35,137.46 L522.26,137.46 L523.17,137.45 L524.08,137.45 L524.99,137.45 L525.91,137.45 L526.82,137.44 L527.73,137.44 L528.64,137.44 L529.55,137.43 L530.46,137.43 L531.37,137.43 L532.29,137.43 L533.20,137.42 L534.11,137.42 L535.02,137.42 L535.93,137.41 L536.84,137.41 L537.75,137.41 L538.67,137.40 L539.58,137.40 L540.49,137.40 L541.40,137.40" stroke="#30d0e0"/>
<path d="M405.60,139.80 L406.51,139.49 L407.42,139.18 L408.33,138.88 L409.25,138.59 L410.16,138.32 L411.07,138.07 L411.98,137.86 L412.89,137.68 L413.80,137.53 L414.71,137.41 L415.63,137.32 L416.54,137.25 L417.45,137.19 L418.36,137.15 L419.27,137.12 L420.18,137.10 L421.09,137.08 L422.01,137.07 L422.92,137.06 L423.83,137.05 L424.74,137.04 L425.65,137.04 L426.56,137.03 L427.47,137.03 L428.39,137.02 L429.30,137.02 L430.21,137.01 L431.12,137.01 L432.03,137.01 L432.94,137.00 L433.85,137.00 L434.77,136.99 L435.68,136.99 L436.59,136.99 L437.50,136.98 L438.41,136.98 L439.32,136.97 L440.23,136.97 L441.14,136.97 L442.06,136.96 L442.97,136.96 L443.88,136.95 L444.79,136.95 L445.70,136.95 L446.61,136.94 L447.52,136.94 L448.44,136.93 L449.35,136.93 L450.26,136.93 L451.17,136.92 L452.08,136.92 L452.99,136.91 L453.90,136.91 L454.82,136.90 L455.73,136.90 L456.64,136.90 L457.55,136.89 L458.46,136.89 L459.37,136.88 L460.28,136.88 L461.20,136.88 L462.11,136.87 L463.02,136.87 L463.93,136.86 L464.84,136.86 L465.75,136.86 L466.66,136.85 L467.58,136.85 L468.49,136.84 L469.40,136.84 L470.31,136.84 L471.22,136.83 L472.13,136.83 L473.04,136.82 L473.96,136.82 L474.87,136.82 L475.78,136.81 L476.69,136.81 L477.60,136.80 L478.51,136.80 L479.42,136.80 L480.34,136.79 L481.25,136.79 L482.16,136.78 L483.07,136.78 L483.98,136.78 L484.89,136.77 L485.80,136.77 L486.72,136.76 L487.63,136.76 L488.54,136.76 L489.45,136.75 L490.36,136.75 L491.27,136.74 L492.18,136.74 L493.10,136.74 L494.01,136.73 L494.92,136.73 L495.83,136.72 L496.74,136.72 L497.65,136.72 L498.56,136.71 L499.48,136.71 L500.39,136.70 L501.30,136.70 L502.21,136.69 L503.12,136.69 L504.03,136.69 L504.94,136.68 L505.86,136.68 L506.77,136.67 L507.68,136.67 L508.59,136.67 L509.50,136.66 L510.41,136.66 L511.32,136.65 L512.23,136.65 L513.15,136.65 L514.06,136.64 L514.97,136.64 L515.88,136.63 L516.79,136.63 L517.70,136.63 L518.61,136.62 L519.53,136.62 L520.44,136.61 L521.35,136.61 L522.26,136.61 L523.17,136.60 L524.08,136.60 L524.99,136.59 L525.91,136.59 L526.82,136.59 L527.73,136.58 L528.64,136.58 L529.55,136.57 L530.46,136.57 L531.37,136.57 L532.29,136.56 L533.20,136.56 L534.11,136.55 L535.02,136.55 L535.93,136.55 L536.84,136.54 L537.75,136.54 L538.67,136.53 L539.58,136.53 L540.49,136.53 L541.40,136.52" stroke="#909090"/>
<path d="M405.60,139.80 L406.51,139.38 L407.42,138.96 L408.33,138.54 L409.25,138.13 L410.16,137.74 L411.07,137.36 L411.98,137.02 L412.89,136.70 L413.80,136.41 L414.71,136.16 L415.63,135.95 L416.54,135.77 L417.45,135.61 L418.36,135.49 L419.27,135.38 L420.18,135.30 L421.09,135.23 L422.01,135.18 L422.92,135.13 L423.83,135.10 L424.74,135.07 L425.65,135.05 L426.56,135.03 L427.47,135.02 L428.39,135.00 L429.30,134.99 L430.21,134.98 L431.12,134.97 L432.03,134.96 L432.94,134.95 L433.85,134.95 L434.77,134.94 L435.68,134.93 L436.59,134.92 L437.50,134.92 L438.41,134.91 L439.32,134.90 L440.23,134.89 L441.14,134.89 L442.06,134.88 L442.97,134.87 L443.88,134.87 L444.79,134.86 L445.70,134.85 L446.61,134.85 L447.52,134.84 L448.44,134.83 L449.35,134.82 L450.26,134.82 L451.17,134.81 L452.08,134.80 L452.99,134.80 L453.90,134.79 L454.82,134.78 L455.73,134.77 L456.64,134.77 L457.55,134.76 L458.46,134.75 L459.37,134.75 L460.28,134.74 L461.20,134.73 L462.11,134.73 L463.02,134.72 L463.93,134.71 L464.84,134.70 L465.75,134.70 L466.66,134.69 L467.58,134.68 L468.49,134.68 L469.40,134.67 L470.31,134.66 L471.22,134.66 L472.13,134.65 L473.04,134.64 L473.96,134.63 L474.87,134.63 L475.78,134.62 L476.69,134.61 L477.60,134.61 L478.51,134.60 L479.42,134.59 L480.34,134.59 L481.25,134.58 L482.16,134.57 L483.07,134.56 L483.98,134.56 L484.89,134.55 L485.80,134.54 L486.72,134.54 L487.63,134.53 L488.54,134.52 L489.45,134.52 L490.36,134.51 L491.27,134.50 L492.18,134.49 L493.10,134.49 L494.01,134.48 L494.92,134.47 L495.83,134.47 L496.74,134.46 L497.65,134.45 L498.56,134.45 L499.48,134.44 L500.39,134.43 L501.30,134.42 L502.21,134.42 L503.12,134.41 L504.03,134.40 L504.94,134.40 L505.86,134.39 L506.77,134.38 L507.68,134.38 L508.59,134.37 L509.50,134.36 L510.41,134.35 L511.32,134.35 L512.23,134.34 L513.15,134.33 L514.06,134.33 L514.97,134.32 L515.88,134.31 L516.79,134.31 L517.70,134.30 L518.61,134.29 L519.53,134.28 L520.44,134.28 L521.35,134.27 L522.26,134.26 L523.17,134.26 L524.08,134.25 L524.99,134.24 L525.91,134.24 L526.82,134.23 L527.73,134.22 L528.64,134.21 L529.55,134.21 L530.46,134.20 L531.37,134.19 L532.29,134.19 L533.20,134.18 L534.11,134.17 L535.02,134.17 L535.93,134.16 L536.84,134.15 L537.75,134.14 L538.67,134.14 L539.58,134.13 L540.49,134.12 L541.40,134.12" stroke="#c8a0b0"/>
<path d="M405.60,139.80 L406.51,139.22 L407.42,138.64 L408.33,138.06 L409.25,137.48 L410.16,136.92 L411.07,136.37 L411.98,135.84 L412.89,135.33 L413.80,134.85 L414.71,134.40 L415.63,133.99 L416.54,133.61 L417.45,133.27 L418.36,132.96 L419.27,132.70 L420.18,132.46 L421.09,132.25 L422.01,132.08 L422.92,131.93 L423.83,131.80 L424.74,131.69 L425.65,131.59 L426.56,131.52 L427.47,131.45 L428.39,131.39 L429.30,131.35 L430.21,131.31 L431.12,131.27 L432.03,131.24 L432.94,131.22 L433.85,131.20 L434.77,131.18 L435.68,131.16 L436.59,131.14 L437.50,131.13 L438.41,131.11 L439.32,131.10 L440.23,131.09 L441.14,131.08 L442.06,131.07 L442.97,131.05 L443.88,131.04 L444.79,131.03 L445.70,131.02 L446.61,131.01 L447.52,131.00 L448.44,130.99 L449.35,130.98 L450.26,130.97 L451.17,130.96 L452.08,130.95 L452.99,130.94 L453.90,130.93 L454.82,130.92 L455.73,130.91 L456.64,130.90 L457.55,130.89 L458.46,130.88 L459.37,130.87 L460.28,130.86 L461.20,130.85 L462.11,130.84 L463.02,130.83 L463.93,130.82 L464.84,130.81 L465.75,130.80 L466.66,130.79 L467.58,130.78 L468.49,130.77 L469.40,130.76 L470.31,130.75 L471.22,130.74 L472.13,130.73 L473.04,130.72 L473.96,130.71 L474.87,130.70 L475.78,130.69 L476.69,130.68 L477.60,130.67 L478.51,130.66 L479.42,130.65 L480.34,130.64 L481.25,130.63 L482.16,130.62 L483.07,130.61 L483.98,130.60 L484.89,130.59 L485.80,130.58 L486.72,130.57 L487.63,130.56 L488.54,130.55 L489.45,130.54 L490.36,130.53 L491.27,130.52 L492.18,130.51 L493.10,130.50 L494.01,130.49 L494.92,130.48 L495.83,130.47 L496.74,130.46 L497.65,130.45 L498.56,130.44 L499.48,130.43 L500.39,130.42 L501.30,130.41 L502.21,130.40 L503.12,130.39 L504.03,130.38 L504.94,130.37 L505.86,130.36 L506.77,130.35 L507.68,130.34 L508.59,130.33 L509.50,130.32 L510.41,130.31 L511.32,130.30 L512.23,130.29 L513.15,130.28 L514.06,130.27 L514.97,130.26 L515.88,130.24 L516.79,130.23 L517.70,130.22 L518.61,130.21 L519.53,130.20 L520.44,130.19 L521.35,130.18 L522.26,130.17 L523.17,130.16 L524.08,130.15 L524.99,130.14 L525.91,130.13 L526.82,130.12 L527.73,130.11 L528.64,130.10 L529.55,130.09 L530.46,130.08 L531.37,130.07 L532.29,130.06 L533.20,130.05 L534.11,130.04 L535.02,130.03 L535.93,130.02 L536.84,130.01 L537.75,130.00 L538.67,129.99 L539.58,129.98 L540.49,129.97 L541.40,129.96" stroke="#b0b040"/>
<path d="M405.60,139.80 L406.51,138.96 L407.42,138.12 L408.33,137.28 L409.25,136.44 L410.16,135.61 L411.07,134.78 L411.98,133.97 L412.89,133.18 L413.80,132.41 L414.71,131.66 L415.63,130.94 L416.54,130.25 L417.45,129.59 L418.36,128.97 L419.27,128.39 L420.18,127.84 L421.09,127.34 L422.01,126.87 L422.92,126.44 L423.83,126.05 L424.74,125.70 L425.65,125.38 L426.56,125.09 L427.47,124.83 L428.39,124.60 L429.30,124.40 L430.21,124.22 L431.12,124.06 L432.03,123.92 L432.94,123.79 L433.85,123.69 L434.77,123.59 L435.68,123.51 L436.59,123.43 L437.50,123.37 L438.41,123.31 L439.32,123.26 L440.23,123.22 L441.14,123.18 L442.06,123.14 L442.97,123.11 L443.88,123.08 L444.79,123.06 L445.70,123.03 L446.61,123.01 L447.52,122.99 L448.44,122.97 L449.35,122.96 L450.26,122.94 L451.17,122.92 L452.08,122.91 L452.99,122.89 L453.90,122.88 L454.82,122.87 L455.73,122.85 L456.64,122.84 L457.55,122.83 L458.46,122.82 L459.37,122.80 L460.28,122.79 L461.20,122.78 L462.11,122.77 L463.02,122.76 L463.93,122.74 L464.84,122.73 L465.75,122.72 L466.66,122.71 L467.58,122.70 L468.49,122.69 L469.40,122.67 L470.31,122.66 L471.22,122.65 L472.13,122.64 L473.04,122.63 L473.96,122.62 L474.87,122.61 L475.78,122.59 L476.69,122.58 L477.60,122.57 L478.51,122.56 L479.42,122.55 L480.34,122.54 L481.25,122.52 L482.16,122.51 L483.07,122.50 L483.98,122.49 L484.89,122.48 L485.80,122.47 L486.72,122.46 L487.63,122.44 L488.54,122.43 L489.45,122.42 L490.36,122.41 L491.27,122.40 L492.18,122.39 L493.10,122.38 L494.01,122.36 L494.92,122.35 L495.83,122.34 L496.74,122.33 L497.65,122.32 L498.56,122.31 L499.48,122.29 L500.39,122.28 L501.30,122.27 L502.21,122.26 L503.12,122.25 L504.03,122.24 L504.94,122.23 L505.86,122.21 L506.77,122.20 L507.68,122.19 L508.59,122.18 L509.50,122.17 L510.41,122.16 L511.32,122.15 L512.23,122.13 L513.15,122.12 L514.06,122.11 L514.97,122.10 L515.88,122.09 L516.79,122.08 L517.70,122.06 L518.61,122.05 L519.53,122.04 L520.44,122.03 L521.35,122.02 L522.26,122.01 L523.17,122.00 L524.08,121.98 L524.99,121.97 L525.91,121.96 L526.82,121.95 L527.73,121.94 L528.64,121.93 L529.55,121.92 L530.46,121.90 L531.37,121.89 L532.29,121.88 L533.20,121.87 L534.11,121.86 L535.02,121.85 L535.93,121.83 L536.84,121.82 L537.75,121.81 L538.67,121.80 L539.58,121.79 L540.49,121.78 L541.40,121.77" stroke="#ff9a40"/>
<path d="M405.60,139.80 L406.51,138.71 L407.42,137.63 L408.33,136.54 L409.25,135.45 L410.16,134.37 L411.07,133.29 L411.98,132.23 L412.89,131.17 L413.80,130.13 L414.71,129.11 L415.63,128.11 L416.54,127.14 L417.45,126.19 L418.36,125.27 L419.27,124.39 L420.18,123.54 L421.09,122.73 L422.01,121.96 L422.92,121.23 L423.83,120.54 L424.74,119.89 L425.65,119.28 L426.56,118.71 L427.47,118.19 L428.39,117.70 L429.30,117.24 L430.21,116.83 L431.12,116.45 L432.03,116.10 L432.94,115.78 L433.85,115.49 L434.77,115.22 L435.68,114.98 L436.59,114.77 L437.50,114.57 L438.41,114.39 L439.32,114.23 L440.23,114.09 L441.14,113.96 L442.06,113.84 L442.97,113.73 L443.88,113.64 L444.79,113.55 L445.70,113.47 L446.61,113.40 L447.52,113.34 L448.44,113.28 L449.35,113.23 L450.26,113.18 L451.17,113.13 L452.08,113.09 L452.99,113.06 L453.90,113.02 L454.82,112.99 L455.73,112.96 L456.64,112.93 L457.55,112.90 L458.46,112.87 L459.37,112.85 L460.28,112.83 L461.20,112.80 L462.11,112.78 L463.02,112.76 L463.93,112.74 L464.84,112.72 L465.75,112.70 L466.66,112.68 L467.58,112.66 L468.49,112.64 L469.40,112.62 L470.31,112.61 L471.22,112.59 L472.13,112.57 L473.04,112.55 L473.96,112.53 L474.87,112.52 L475.78,112.50 L476.69,112.48 L477.60,112.47 L478.51,112.45 L479.42,112.43 L480.34,112.41 L481.25,112.40 L482.16,112.38 L483.07,112.36 L483.98,112.34 L484.89,112.33 L485.80,112.31 L486.72,112.29 L487.63,112.28 L488.54,112.26 L489.45,112.24 L490.36,112.23 L491.27,112.21 L492.18,112.19 L493.10,112.17 L494.01,112.16 L494.92,112.14 L495.83,112.12 L496.74,112.11 L497.65,112.09 L498.56,112.07 L499.48,112.06 L500.39,112.04 L501.30,112.02 L502.21,112.00 L503.12,111.99 L504.03,111.97 L504.94,111.95 L505.86,111.94 L506.77,111.92 L507.68,111.90 L508.59,111.89 L509.50,111.87 L510.41,111.85 L511.32,111.83 L512.23,111.82 L513.15,111.80 L514.06,111.78 L514.97,111.77 L515.88,111.75 L516.79,111.73 L517.70,111.71 L518.61,111.70 L519.53,111.68 L520.44,111.66 L521.35,111.65 L522.26,111.63 L523.17,111.61 L524.08,111.60 L524.99,111.58 L525.91,111.56 L526.82,111.54 L527.73,111.53 L528.64,111.51 L529.55,111.49 L530.46,111.48 L531.37,111.46 L532.29,111.44 L533.20,111.43 L534.11,111.41 L535.02,111.39 L535.93,111.37 L536.84,111.36 L537.75,111.34 L538.67,111.32 L539.58,111.31 L540.49,111.29 L541.40,111.27" stroke="#66aee6"/>
<path d="M405.60,139.80 L406.51,138.48 L407.42,137.15 L408.33,135.82 L409.25,134.50 L410.16,133.17 L411.07,131.85 L411.98,130.54 L412.89,129.23 L413.80,127.93 L414.71,126.65 L415.63,125.39 L416.54,124.14 L417.45,122.92 L418.36,121.72 L419.27,120.55 L420.18,119.41 L421.09,118.30 L422.01,117.23 L422.92,116.19 L423.83,115.19 L424.74,114.24 L425.65,113.32 L426.56,112.45 L427.47,111.62 L428.39,110.83 L429.30,110.08 L430.21,109.38 L431.12,108.71 L432.03,108.09 L432.94,107.51 L433.85,106.96 L434.77,106.45 L435.68,105.98 L436.59,105.54 L437.50,105.13 L438.41,104.75 L439.32,104.40 L440.23,104.07 L441.14,103.77 L442.06,103.49 L442.97,103.24 L443.88,103.00 L444.79,102.79 L445.70,102.59 L446.61,102.40 L447.52,102.24 L448.44,102.08 L449.35,101.93 L450.26,101.80 L451.17,101.68 L452.08,101.56 L452.99,101.46 L453.90,101.36 L454.82,101.27 L455.73,101.18 L456.64,101.10 L457.55,101.03 L458.46,100.96 L459.37,100.89 L460.28,100.83 L461.20,100.77 L462.11,100.71 L463.02,100.66 L463.93,100.61 L464.84,100.56 L465.75,100.51 L466.66,100.46 L467.58,100.42 L468.49,100.37 L469.40,100.33 L470.31,100.29 L471.22,100.25 L472.13,100.21 L473.04,100.17 L473.96,100.13 L474.87,100.10 L475.78,100.06 L476.69,100.02 L477.60,99.99 L478.51,99.95 L479.42,99.91 L480.34,99.88 L481.25,99.84 L482.16,99.81 L483.07,99.77 L483.98,99.74 L484.89,99.70 L485.80,99.67 L486.72,99.64 L487.63,99.60 L488.54,99.57 L489.45,99.53 L490.36,99.50 L491.27,99.46 L492.18,99.43 L493.10,99.40 L494.01,99.36 L494.92,99.33 L495.83,99.30 L496.74,99.26 L497.65,99.23 L498.56,99.19 L499.48,99.16 L500.39,99.13 L501.30,99.09 L502.21,99.06 L503.12,99.03 L504.03,98.99 L504.94,98.96 L505.86,98.92 L506.77,98.89 L507.68,98.86 L508.59,98.82 L509.50,98.79 L510.41,98.76 L511.32,98.72 L512.23,98.69 L513.15,98.65 L514.06,98.62 L514.97,98.59 L515.88,98.55 L516.79,98.52 L517.70,98.49 L518.61,98.45 L519.53,98.42 L520.44,98.38 L521.35,98.35 L522.26,98.32 L523.17,98.28 L524.08,98.25 L524.99,98.22 L525.91,98.18 L526.82,98.15 L527.73,98.12 L528.64,98.08 L529.55,98.05 L530.46,98.01 L531.37,97.98 L532.29,97.95 L533.20,97.91 L534.11,97.88 L535.02,97.85 L535.93,97.81 L536.84,97.78 L537.75,97.74 L538.67,97.71 L539.58,97.68 L540.49,97.64 L541.40,97.61" stroke="#66cc44"/>
<path d="M405.60,139.80 L406.51,138.21 L407.42,136.63 L408.33,135.04 L409.25,133.45 L410.16,131.86 L411.07,130.27 L411.98,128.69 L412.89,127.11 L413.80,125.54 L414.71,123.98 L415.63,122.44 L416.54,120.91 L417.45,119.40 L418.36,117.91 L419.27,116.44 L420.18,115.00 L421.09,113.59 L422.01,112.21 L422.92,110.86 L423.83,109.54 L424.74,108.26 L425.65,107.02 L426.56,105.82 L427.47,104.67 L428.39,103.55 L429.30,102.48 L430.21,101.45 L431.12,100.46 L432.03,99.52 L432.94,98.62 L433.85,97.77 L434.77,96.95 L435.68,96.19 L436.59,95.46 L437.50,94.77 L438.41,94.12 L439.32,93.51 L440.23,92.93 L441.14,92.39 L442.06,91.88 L442.97,91.41 L443.88,90.96 L444.79,90.55 L445.70,90.16 L446.61,89.79 L447.52,89.46 L448.44,89.14 L449.35,88.84 L450.26,88.57 L451.17,88.31 L452.08,88.08 L452.99,87.85 L453.90,87.65 L454.82,87.45 L455.73,87.27 L456.64,87.10 L457.55,86.95 L458.46,86.80 L459.37,86.66 L460.28,86.53 L461.20,86.41 L462.11,86.30 L463.02,86.19 L463.93,86.09 L464.84,86.00 L465.75,85.91 L466.66,85.82 L467.58,85.74 L468.49,85.66 L469.40,85.59 L470.31,85.52 L471.22,85.45 L472.13,85.39 L473.04,85.32 L473.96,85.26 L474.87,85.20 L475.78,85.15 L476.69,85.09 L477.60,85.04 L478.51,84.99 L479.42,84.94 L480.34,84.89 L481.25,84.84 L482.16,84.79 L483.07,84.74 L483.98,84.69 L484.89,84.65 L485.80,84.60 L486.72,84.56 L487.63,84.51 L488.54,84.47 L489.45,84.43 L490.36,84.38 L491.27,84.34 L492.18,84.30 L493.10,84.25 L494.01,84.21 L494.92,84.17 L495.83,84.13 L496.74,84.09 L497.65,84.05 L498.56,84.00 L499.48,83.96 L500.39,83.92 L501.30,83.88 L502.21,83.84 L503.12,83.80 L504.03,83.76 L504.94,83.72 L505.86,83.67 L506.77,83.63 L507.68,83.59 L508.59,83.55 L509.50,83.51 L510.41,83.47 L511.32,83.43 L512.23,83.39 L513.15,83.35 L514.06,83.31 L514.97,83.27 L515.88,83.23 L516.79,83.19 L517.70,83.14 L518.61,83.10 L519.53,83.06 L520.44,83.02 L521.35,82.98 L522.26,82.94 L523.17,82.90 L524.08,82.86 L524.99,82.82 L525.91,82.78 L526.82,82.74 L527.73,82.70 L528.64,82.66 L529.55,82.62 L530.46,82.58 L531.37,82.54 L532.29,82.50 L533.20,82.45 L534.11,82.41 L535.02,82.37 L535.93,82.33 L536.84,82.29 L537.75,82.25 L538.67,82.21 L539.58,82.17 L540.49,82.13 L541.40,82.09" stroke="#707070"/>
<path d="M405.60,139.80 L406.51,138.03 L407.42,136.26 L408.33,134.49 L409.25,132.71 L410.16,130.93 L411.07,129.15 L411.98,127.37 L412.89,125.59 L413.80,123.82 L414.71,122.06 L415.63,120.30 L416.54,118.56 L417.45,116.83 L418.36,115.12 L419.27,113.42 L420.18,111.75 L421.09,110.10 L422.01,108.47 L422.92,106.88 L423.83,105.31 L424.74,103.78 L425.65,102.28 L426.56,100.82 L427.47,99.40 L428.39,98.01 L429.30,96.67 L430.21,95.37 L431.12,94.12 L432.03,92.90 L432.94,91.73 L433.85,90.61 L434.77,89.53 L435.68,88.49 L436.59,87.50 L437.50,86.55 L438.41,85.64 L439.32,84.78 L440.23,83.95 L441.14,83.17 L442.06,82.43 L442.97,81.72 L443.88,81.05 L444.79,80.41 L445.70,79.81 L446.61,79.24 L447.52,78.71 L448.44,78.20 L449.35,77.72 L450.26,77.26 L451.17,76.83 L452.08,76.43 L452.99,76.05 L453.90,75.69 L454.82,75.34 L455.73,75.02 L456.64,74.72 L457.55,74.43 L458.46,74.16 L459.37,73.90 L460.28,73.65 L461.20,73.42 L462.11,73.20 L463.02,72.99 L463.93,72.79 L464.84,72.60 L465.75,72.42 L466.66,72.25 L467.58,72.08 L468.49,71.92 L469.40,71.77 L470.31,71.62 L471.22,71.48 L472.13,71.34 L473.04,71.21 L473.96,71.08 L474.87,70.96 L475.78,70.84 L476.69,70.72 L477.60,70.60 L478.51,70.49 L479.42,70.38 L480.34,70.27 L481.25,70.17 L482.16,70.07 L483.07,69.96 L483.98,69.86 L484.89,69.76 L485.80,69.67 L486.72,69.57 L487.63,69.48 L488.54,69.38 L489.45,69.29 L490.36,69.20 L491.27,69.10 L492.18,69.01 L493.10,68.92 L494.01,68.83 L494.92,68.74 L495.83,68.66 L496.74,68.57 L497.65,68.48 L498.56,68.39 L499.48,68.30 L500.39,68.22 L501.30,68.13 L502.21,68.04 L503.12,67.96 L504.03,67.87 L504.94,67.78 L505.86,67.70 L506.77,67.61 L507.68,67.53 L508.59,67.44 L509.50,67.35 L510.41,67.27 L511.32,67.18 L512.23,67.10 L513.15,67.01 L514.06,66.93 L514.97,66.84 L515.88,66.76 L516.79,66.67 L517.70,66.59 L518.61,66.50 L519.53,66.42 L520.44,66.33 L521.35,66.25 L522.26,66.16 L523.17,66.08 L524.08,65.99 L524.99,65.91 L525.91,65.82 L526.82,65.74 L527.73,65.65 L528.64,65.57 L529.55,65.48 L530.46,65.40 L531.37,65.32 L532.29,65.23 L533.20,65.15 L534.11,65.06 L535.02,64.98 L535.93,64.89 L536.84,64.81 L537.75,64.72 L538.67,64.64 L539.58,64.55 L540.49,64.47 L541.40,64.38" stroke="#f07878"/>
<path d="M405.60,139.80 L406.51,137.85 L407.42,135.90 L408.33,133.94 L409.25,131.97 L410.16,130.00 L411.07,128.03 L411.98,126.05 L412.89,124.08 L413.80,122.11 L414.71,120.14 L415.63,118.18 L416.54,116.23 L417.45,114.29 L418.36,112.36 L419.27,110.44 L420.18,108.54 L421.09,106.67 L422.01,104.81 L422.92,102.98 L423.83,101.17 L424.74,99.40 L425.65,97.65 L426.56,95.94 L427.47,94.26 L428.39,92.62 L429.30,91.01 L430.21,89.45 L431.12,87.93 L432.03,86.45 L432.94,85.01 L433.85,83.62 L434.77,82.27 L435.68,80.96 L436.59,79.70 L437.50,78.48 L438.41,77.31 L439.32,76.19 L440.23,75.11 L441.14,74.07 L442.06,73.07 L442.97,72.12 L443.88,71.20 L444.79,70.33 L445.70,69.50 L446.61,68.70 L447.52,67.94 L448.44,67.22 L449.35,66.52 L450.26,65.87 L451.17,65.24 L452.08,64.64 L452.99,64.07 L453.90,63.53 L454.82,63.02 L455.73,62.53 L456.64,62.06 L457.55,61.62 L458.46,61.20 L459.37,60.79 L460.28,60.41 L461.20,60.04 L462.11,59.69 L463.02,59.36 L463.93,59.04 L464.84,58.73 L465.75,58.44 L466.66,58.16 L467.58,57.89 L468.49,57.63 L469.40,57.38 L470.31,57.14 L471.22,56.91 L472.13,56.69 L473.04,56.47 L473.96,56.27 L474.87,56.06 L475.78,55.87 L476.69,55.68 L477.60,55.49 L478.51,55.31 L479.42,55.13 L480.34,54.96 L481.25,54.79 L482.16,54.63 L483.07,54.47 L483.98,54.31 L484.89,54.15 L485.80,54.00 L486.72,53.85 L487.63,53.70 L488.54,53.55 L489.45,53.41 L490.36,53.26 L491.27,53.12 L492.18,52.98 L493.10,52.84 L494.01,52.70 L494.92,52.56 L495.83,52.43 L496.74,52.29 L497.65,52.16 L498.56,52.02 L499.48,51.89 L500.39,51.76 L501.30,51.63 L502.21,51.49 L503.12,51.36 L504.03,51.23 L504.94,51.10 L505.86,50.97 L506.77,50.84 L507.68,50.71 L508.59,50.59 L509.50,50.46 L510.41,50.33 L511.32,50.20 L512.23,50.07 L513.15,49.94 L514.06,49.82 L514.97,49.69 L515.88,49.56 L516.79,49.44 L517.70,49.31 L518.61,49.18 L519.53,49.05 L520.44,48.93 L521.35,48.80 L522.26,48.67 L523.17,48.55 L524.08,48.42 L524.99,48.29 L525.91,48.17 L526.82,48.04 L527.73,47.91 L528.64,47.79 L529.55,47.66 L530.46,47.54 L531.37,47.41 L532.29,47.28 L533.20,47.16 L534.11,47.03 L535.02,46.90 L535.93,46.78 L536.84,46.65 L537.75,46.53 L538.67,46.40 L539.58,46.27 L540.49,46.15 L541.40,46.02" stroke="#3a9ae8"/>
<path d="M405.60,139.80 L406.51,139.66 L407.42,139.52 L408.33,139.40 L409.25,139.30 L410.16,139.23 L411.07,139.18 L411.98,139.16 L412.89,139.14 L413.80,139.14 L414.71,139.13 L415.63,139.13 L416.54,139.13 L417.45,139.13 L418.36,139.13 L419.27,139.12 L420.18,139.12 L421.09,139.12 L422.01,139.12 L422.92,139.12 L423.83,139.12 L424.74,139.12 L425.65,139.12 L426.56,139.12 L427.47,139.12 L428.39,139.12 L429.30,139.12 L430.21,139.12 L431.12,139.12 L432.03,139.12 L432.94,139.11 L433.85,139.11 L434.77,139.11 L435.68,139.11 L436.59,139.11 L437.50,139.11 L438.41,139.11 L439.32,139.11 L440.23,139.11 L441.14,139.11 L442.06,139.11 L442.97,139.11 L443.88,139.11 L444.79,139.11 L445.70,139.11 L446.61,139.10 L447.52,139.10 L448.44,139.10 L449.35,139.10 L450.26,139.10 L451.17,139.10 L452.08,139.10 L452.99,139.10 L453.90,139.10 L454.82,139.10 L455.73,139.10 L456.64,139.10 L457.55,139.10 L458.46,139.10 L459.37,139.10 L460.28,139.09 L461.20,139.09 L462.11,139.09 L463.02,139.09 L463.93,139.09 L464.84,139.09 L465.75,139.09 L466.66,139.09 L467.58,139.09 L468.49,139.09 L469.40,139.09 L470.31,139.09 L471.22,139.09 L472.13,139.09 L473.04,139.09 L473.96,139.08 L474.87,139.08 L475.78,139.08 L476.69,139.08 L477.60,139.08 L478.51,139.08 L479.42,139.08 L480.34,139.08 L481.25,139.08 L482.16,139.08 L483.07,139.08 L483.98,139.08 L484.89,139.08 L485.80,139.08 L486.72,139.08 L487.63,139.07 L488.54,139.07 L489.45,139.07 L490.36,139.07 L491.27,139.07 L492.18,139.07 L493.10,139.07 L494.01,139.07 L494.92,139.07 L495.83,139.07 L496.74,139.07 L497.65,139.07 L498.56,139.07 L499.48,139.07 L500.39,139.07 L501.30,139.06 L502.21,139.06 L503.12,139.06 L504.03,139.06 L504.94,139.06 L505.86,139.06 L506.77,139.06 L507.68,139.06 L508.59,139.06 L509.50,139.06 L510.41,139.06 L511.32,139.06 L512.23,139.06 L513.15,139.06 L514.06,139.05 L514.97,139.05 L515.88,139.05 L516.79,139.05 L517.70,139.05 L518.61,139.05 L519.53,139.05 L520.44,139.05 L521.35,139.05 L522.26,139.05 L523.17,139.05 L524.08,139.05 L524.99,139.05 L525.91,139.05 L526.82,139.05 L527.73,139.04 L528.64,139.04 L529.55,139.04 L530.46,139.04 L531.37,139.04 L532.29,139.04 L533.20,139.04 L534.11,139.04 L535.02,139.04 L535.93,139.04 L536.84,139.04 L537.75,139.04 L538.67,139.04 L539.58,139.04 L540.49,139.04 L541.40,139.03" stroke="#c87840"/>
</g>
<rect x="405.60" y="30.50" width="135.80" height="109.30" stroke="#3c3c3c" stroke-width="1.45" fill="none"/>
<path d="M405.60,139.80 L408.60,139.80 M405.60,128.87 L407.60,128.87 M405.60,117.94 L408.60,117.94 M405.60,107.01 L407.60,107.01 M405.60,96.08 L408.60,96.08 M405.60,85.15 L407.60,85.15 M405.60,74.22 L408.60,74.22 M405.60,63.29 L407.60,63.29 M405.60,52.36 L408.60,52.36 M405.60,41.43 L407.60,41.43 M405.60,30.50 L408.60,30.50 M405.60,139.80 L405.60,136.80 M423.71,139.80 L423.71,137.80 M441.81,139.80 L441.81,136.80 M459.92,139.80 L459.92,137.80 M478.03,139.80 L478.03,136.80 M496.13,139.80 L496.13,137.80 M514.24,139.80 L514.24,136.80 M532.35,139.80 L532.35,137.80" stroke="#222" stroke-width="1"/>
<text x="403.30" y="142.20" font-size="7.6" text-anchor="end" font-weight="normal" fill="#333" font-family='"Liberation Sans", sans-serif' >0.0</text>
<text x="403.30" y="120.34" font-size="7.6" text-anchor="end" font-weight="normal" fill="#333" font-family='"Liberation Sans", sans-serif' >0.2</text>
<text x="403.30" y="98.48" font-size="7.6" text-anchor="end" font-weight="normal" fill="#333" font-family='"Liberation Sans", sans-serif' >0.4</text>
<text x="403.30" y="76.62" font-size="7.6" text-anchor="end" font-weight="normal" fill="#333" font-family='"Liberation Sans", sans-serif' >0.6</text>
<text x="403.30" y="54.76" font-size="7.6" text-anchor="end" font-weight="normal" fill="#333" font-family='"Liberation Sans", sans-serif' >0.8</text>
<text x="403.30" y="32.90" font-size="7.6" text-anchor="end" font-weight="normal" fill="#333" font-family='"Liberation Sans", sans-serif' >1.0</text>
<text x="405.60" y="147.70" font-size="7.6" text-anchor="middle" font-weight="normal" fill="#333" font-family='"Liberation Sans", sans-serif' >0</text>
<text x="441.81" y="147.70" font-size="7.6" text-anchor="middle" font-weight="normal" fill="#333" font-family='"Liberation Sans", sans-serif' >4</text>
<text x="478.03" y="147.70" font-size="7.6" text-anchor="middle" font-weight="normal" fill="#333" font-family='"Liberation Sans", sans-serif' >8</text>
<text x="514.24" y="147.70" font-size="7.6" text-anchor="middle" font-weight="normal" fill="#333" font-family='"Liberation Sans", sans-serif' >12</text>
<text x="459.2" y="156.5" font-size="8.8" fill="#222" font-family='"Liberation Sans", sans-serif'>V<tspan font-size="6.3" dy="2">DS</tspan><tspan dy="-2"> (V)</tspan></text>
<g transform="translate(388.0,81.8) rotate(-90)"><text x="0" y="0" text-anchor="middle" font-size="8.8" fill="#222" font-family='"Liberation Sans", sans-serif'>I<tspan font-size="6.3" dy="2">DS</tspan><tspan dy="-2"> (mA)</tspan></text></g>
<text x="410.9" y="42.7" font-size="7.65" fill="#222" font-family='"Liberation Sans", sans-serif'>V<tspan font-size="5.4" dy="1.8">GS</tspan><tspan dy="-1.8"> = 0 to 15 V</tspan></text>
<text x="410.9" y="53.9" font-size="7.65" fill="#222" font-family='"Liberation Sans", sans-serif'>Step = 1V</text>
<rect x="33.50" y="272.51" width="13.97" height="11.39" fill="#d0e3f8" stroke="#9fb0c8" stroke-width="0.8"/>
<rect x="47.47" y="192.77" width="13.97" height="91.13" fill="#d0e3f8" stroke="#9fb0c8" stroke-width="0.8"/>
<rect x="61.44" y="197.33" width="13.97" height="86.57" fill="#d0e3f8" stroke="#9fb0c8" stroke-width="0.8"/>
<rect x="75.41" y="197.33" width="13.97" height="86.57" fill="#d0e3f8" stroke="#9fb0c8" stroke-width="0.8"/>
<rect x="89.38" y="256.56" width="13.97" height="27.34" fill="#d0e3f8" stroke="#9fb0c8" stroke-width="0.8"/>
<rect x="103.35" y="242.89" width="13.97" height="41.01" fill="#d0e3f8" stroke="#9fb0c8" stroke-width="0.8"/>
<rect x="117.32" y="247.45" width="13.97" height="36.45" fill="#d0e3f8" stroke="#9fb0c8" stroke-width="0.8"/>
<rect x="131.29" y="272.51" width="13.97" height="11.39" fill="#d0e3f8" stroke="#9fb0c8" stroke-width="0.8"/>
<rect x="145.26" y="270.23" width="13.97" height="13.67" fill="#d0e3f8" stroke="#9fb0c8" stroke-width="0.8"/>
<rect x="159.23" y="279.34" width="13.97" height="4.56" fill="#d0e3f8" stroke="#9fb0c8" stroke-width="0.8"/>
<path d="M33.50,262.26 L34.20,261.38 L34.90,260.48 L35.61,259.55 L36.31,258.61 L37.01,257.64 L37.71,256.64 L38.41,255.63 L39.12,254.60 L39.82,253.54 L40.52,252.47 L41.22,251.37 L41.92,250.26 L42.63,249.12 L43.33,247.97 L44.03,246.80 L44.73,245.62 L45.43,244.42 L46.14,243.20 L46.84,241.97 L47.54,240.73 L48.24,239.47 L48.94,238.21 L49.65,236.93 L50.35,235.65 L51.05,234.36 L51.75,233.06 L52.45,231.76 L53.16,230.45 L53.86,229.14 L54.56,227.83 L55.26,226.53 L55.96,225.22 L56.67,223.92 L57.37,222.63 L58.07,221.34 L58.77,220.06 L59.47,218.79 L60.18,217.53 L60.88,216.29 L61.58,215.06 L62.28,213.85 L62.98,212.65 L63.69,211.48 L64.39,210.33 L65.09,209.20 L65.79,208.10 L66.49,207.03 L67.20,205.98 L67.90,204.96 L68.60,203.98 L69.30,203.03 L70.00,202.11 L70.71,201.23 L71.41,200.38 L72.11,199.58 L72.81,198.81 L73.51,198.08 L74.22,197.40 L74.92,196.76 L75.62,196.17 L76.32,195.62 L77.02,195.12 L77.73,194.66 L78.43,194.25 L79.13,193.89 L79.83,193.58 L80.53,193.32 L81.24,193.11 L81.94,192.95 L82.64,192.84 L83.34,192.78 L84.04,192.78 L84.75,192.82 L85.45,192.92 L86.15,193.06 L86.85,193.26 L87.55,193.50 L88.26,193.80 L88.96,194.15 L89.66,194.54 L90.36,194.98 L91.06,195.47 L91.77,196.01 L92.47,196.59 L93.17,197.22 L93.87,197.89 L94.57,198.60 L95.28,199.36 L95.98,200.15 L96.68,200.99 L97.38,201.86 L98.08,202.76 L98.79,203.71 L99.49,204.68 L100.19,205.69 L100.89,206.73 L101.59,207.80 L102.30,208.89 L103.00,210.01 L103.70,211.16 L104.40,212.32 L105.11,213.51 L105.81,214.72 L106.51,215.94 L107.21,217.18 L107.91,218.44 L108.62,219.70 L109.32,220.98 L110.02,222.26 L110.72,223.56 L111.42,224.86 L112.13,226.16 L112.83,227.47 L113.53,228.78 L114.23,230.08 L114.93,231.39 L115.64,232.69 L116.34,233.99 L117.04,235.29 L117.74,236.57 L118.44,237.85 L119.15,239.12 L119.85,240.38 L120.55,241.62 L121.25,242.86 L121.95,244.08 L122.66,245.28 L123.36,246.47 L124.06,247.65 L124.76,248.80 L125.46,249.94 L126.17,251.06 L126.87,252.16 L127.57,253.24 L128.27,254.30 L128.97,255.34 L129.68,256.36 L130.38,257.36 L131.08,258.34 L131.78,259.29 L132.48,260.22 L133.19,261.13 L133.89,262.02 L134.59,262.88 L135.29,263.72 L135.99,264.54 L136.70,265.33 L137.40,266.11 L138.10,266.86 L138.80,267.58 L139.50,268.29 L140.21,268.97 L140.91,269.63 L141.61,270.27 L142.31,270.89 L143.01,271.49 L143.72,272.06 L144.42,272.62 L145.12,273.16 L145.82,273.67 L146.52,274.17 L147.23,274.65 L147.93,275.11 L148.63,275.55 L149.33,275.97 L150.03,276.38 L150.74,276.77 L151.44,277.14 L152.14,277.50 L152.84,277.84 L153.54,278.16 L154.25,278.48 L154.95,278.77 L155.65,279.06 L156.35,279.33 L157.05,279.59 L157.76,279.83 L158.46,280.07 L159.16,280.29 L159.86,280.50 L160.56,280.70 L161.27,280.89 L161.97,281.08 L162.67,281.25 L163.37,281.41 L164.07,281.56 L164.78,281.71 L165.48,281.85 L166.18,281.98 L166.88,282.10 L167.58,282.22 L168.29,282.33 L168.99,282.43 L169.69,282.53 L170.39,282.62 L171.09,282.70 L171.80,282.78 L172.50,282.86 L173.20,282.93" fill="none" stroke="#1f4f8f" stroke-width="1.5"/>
<rect x="33.50" y="180.70" width="139.70" height="103.20" stroke="#3c3c3c" stroke-width="1.45" fill="none"/>
<path d="M33.50,283.90 L31.50,283.90 M33.50,272.51 L32.30,272.51 M33.50,261.12 L31.50,261.12 M33.50,249.73 L32.30,249.73 M33.50,238.34 L31.50,238.34 M33.50,226.95 L32.30,226.95 M33.50,215.56 L31.50,215.56 M33.50,204.16 L32.30,204.16 M33.50,192.77 L31.50,192.77" stroke="#222" stroke-width="0.9"/>
<text x="31.30" y="286.70" font-size="7.6" text-anchor="end" font-weight="normal" fill="#444" font-family='"Liberation Sans", sans-serif' >0</text>
<text x="31.30" y="263.92" font-size="7.6" text-anchor="end" font-weight="normal" fill="#444" font-family='"Liberation Sans", sans-serif' >10</text>
<text x="31.30" y="241.14" font-size="7.6" text-anchor="end" font-weight="normal" fill="#444" font-family='"Liberation Sans", sans-serif' >20</text>
<text x="31.30" y="218.36" font-size="7.6" text-anchor="end" font-weight="normal" fill="#444" font-family='"Liberation Sans", sans-serif' >30</text>
<text x="31.30" y="195.57" font-size="7.6" text-anchor="end" font-weight="normal" fill="#444" font-family='"Liberation Sans", sans-serif' >40</text>
<text x="33.50" y="291.50" font-size="7.6" text-anchor="middle" font-weight="normal" fill="#444" font-family='"Liberation Sans", sans-serif' >0.0</text>
<text x="61.44" y="291.50" font-size="7.6" text-anchor="middle" font-weight="normal" fill="#444" font-family='"Liberation Sans", sans-serif' >0.2</text>
<text x="89.38" y="291.50" font-size="7.6" text-anchor="middle" font-weight="normal" fill="#444" font-family='"Liberation Sans", sans-serif' >0.4</text>
<text x="117.32" y="291.50" font-size="7.6" text-anchor="middle" font-weight="normal" fill="#444" font-family='"Liberation Sans", sans-serif' >0.6</text>
<text x="145.26" y="291.50" font-size="7.6" text-anchor="middle" font-weight="normal" fill="#444" font-family='"Liberation Sans", sans-serif' >0.8</text>
<text x="173.20" y="291.50" font-size="7.6" text-anchor="middle" font-weight="normal" fill="#444" font-family='"Liberation Sans", sans-serif' >1.0</text>
<g transform="translate(21.10,232.7) rotate(-90)"><text x="0" y="0" text-anchor="middle" font-size="8.7" fill="#333" font-family='"Liberation Sans", sans-serif'>Counts</text></g>
<text x="77.6" y="301.7" font-size="8.5" fill="#333" font-family='"Liberation Sans", sans-serif'>I<tspan font-size="6.2" dy="2">ON</tspan><tspan dy="-2">/I</tspan><tspan font-size="6.2" dy="2">OFF</tspan><tspan dy="-2"> (x10</tspan><tspan font-size="5.8" dy="-3.2">8</tspan><tspan dy="3.2">)</tspan></text>
<text x="119.2" y="190.6" font-size="6.85" fill="#444" font-family='"Liberation Sans", sans-serif'>Avg = 4.46x10<tspan font-size="4.6" dy="-2.8">8</tspan></text>
<text x="119.2" y="199.5" font-size="6.85" fill="#444" font-family='"Liberation Sans", sans-serif'>SD = 6.37x10<tspan font-size="4.6" dy="-2.8">8</tspan></text>
<rect x="232.77" y="274.79" width="9.27" height="9.11" fill="#fc9898" stroke="#a05c5c" stroke-width="0.8"/>
<rect x="242.03" y="213.28" width="9.27" height="70.62" fill="#fc9898" stroke="#a05c5c" stroke-width="0.8"/>
<rect x="251.30" y="190.50" width="9.27" height="93.40" fill="#fc9898" stroke="#a05c5c" stroke-width="0.8"/>
<rect x="260.57" y="229.22" width="9.27" height="54.68" fill="#fc9898" stroke="#a05c5c" stroke-width="0.8"/>
<rect x="269.83" y="245.17" width="9.27" height="38.73" fill="#fc9898" stroke="#a05c5c" stroke-width="0.8"/>
<rect x="279.10" y="249.73" width="9.27" height="34.17" fill="#fc9898" stroke="#a05c5c" stroke-width="0.8"/>
<rect x="288.37" y="256.56" width="9.27" height="27.34" fill="#fc9898" stroke="#a05c5c" stroke-width="0.8"/>
<rect x="297.63" y="265.67" width="9.27" height="18.23" fill="#fc9898" stroke="#a05c5c" stroke-width="0.8"/>
<rect x="306.90" y="258.84" width="9.27" height="25.06" fill="#fc9898" stroke="#a05c5c" stroke-width="0.8"/>
<rect x="316.17" y="258.84" width="9.27" height="25.06" fill="#fc9898" stroke="#a05c5c" stroke-width="0.8"/>
<rect x="325.43" y="270.23" width="9.27" height="13.67" fill="#fc9898" stroke="#a05c5c" stroke-width="0.8"/>
<rect x="334.70" y="277.07" width="9.27" height="6.83" fill="#fc9898" stroke="#a05c5c" stroke-width="0.8"/>
<rect x="343.97" y="277.07" width="9.27" height="6.83" fill="#fc9898" stroke="#a05c5c" stroke-width="0.8"/>
<path d="M223.50,269.07 L224.20,268.33 L224.90,267.56 L225.60,266.77 L226.29,265.95 L226.99,265.10 L227.69,264.22 L228.39,263.32 L229.09,262.39 L229.79,261.43 L230.48,260.45 L231.18,259.44 L231.88,258.40 L232.58,257.33 L233.28,256.24 L233.98,255.13 L234.68,253.98 L235.37,252.82 L236.07,251.62 L236.77,250.41 L237.47,249.17 L238.17,247.91 L238.87,246.62 L239.57,245.32 L240.26,244.00 L240.96,242.66 L241.66,241.30 L242.36,239.92 L243.06,238.54 L243.76,237.13 L244.45,235.72 L245.15,234.30 L245.85,232.86 L246.55,231.43 L247.25,229.98 L247.95,228.53 L248.65,227.08 L249.34,225.63 L250.04,224.19 L250.74,222.74 L251.44,221.31 L252.14,219.88 L252.84,218.46 L253.54,217.05 L254.23,215.66 L254.93,214.28 L255.63,212.93 L256.33,211.59 L257.03,210.28 L257.73,208.99 L258.42,207.73 L259.12,206.50 L259.82,205.30 L260.52,204.14 L261.22,203.01 L261.92,201.92 L262.62,200.87 L263.31,199.86 L264.01,198.89 L264.71,197.97 L265.41,197.10 L266.11,196.27 L266.81,195.49 L267.51,194.77 L268.20,194.10 L268.90,193.48 L269.60,192.92 L270.30,192.41 L271.00,191.96 L271.70,191.58 L272.39,191.24 L273.09,190.97 L273.79,190.76 L274.49,190.61 L275.19,190.52 L275.89,190.50 L276.59,190.53 L277.28,190.62 L277.98,190.78 L278.68,190.99 L279.38,191.27 L280.08,191.61 L280.78,192.00 L281.47,192.45 L282.17,192.96 L282.87,193.53 L283.57,194.15 L284.27,194.83 L284.97,195.56 L285.67,196.34 L286.36,197.17 L287.06,198.05 L287.76,198.97 L288.46,199.94 L289.16,200.96 L289.86,202.01 L290.56,203.11 L291.25,204.24 L291.95,205.41 L292.65,206.61 L293.35,207.84 L294.05,209.10 L294.75,210.39 L295.44,211.71 L296.14,213.04 L296.84,214.40 L297.54,215.78 L298.24,217.17 L298.94,218.58 L299.64,220.00 L300.33,221.43 L301.03,222.87 L301.73,224.31 L302.43,225.76 L303.13,227.21 L303.83,228.66 L304.53,230.11 L305.22,231.55 L305.92,232.99 L306.62,234.42 L307.32,235.84 L308.02,237.26 L308.72,238.66 L309.41,240.04 L310.11,241.42 L310.81,242.77 L311.51,244.11 L312.21,245.43 L312.91,246.74 L313.61,248.02 L314.30,249.28 L315.00,250.51 L315.70,251.73 L316.40,252.92 L317.10,254.08 L317.80,255.22 L318.49,256.34 L319.19,257.43 L319.89,258.49 L320.59,259.53 L321.29,260.54 L321.99,261.52 L322.69,262.47 L323.38,263.40 L324.08,264.30 L324.78,265.17 L325.48,266.02 L326.18,266.84 L326.88,267.63 L327.58,268.39 L328.27,269.13 L328.97,269.85 L329.67,270.53 L330.37,271.20 L331.07,271.83 L331.77,272.45 L332.46,273.03 L333.16,273.60 L333.86,274.14 L334.56,274.66 L335.26,275.16 L335.96,275.64 L336.66,276.09 L337.35,276.53 L338.05,276.94 L338.75,277.34 L339.45,277.72 L340.15,278.08 L340.85,278.42 L341.55,278.74 L342.24,279.05 L342.94,279.35 L343.64,279.63 L344.34,279.89 L345.04,280.14 L345.74,280.38 L346.43,280.60 L347.13,280.82 L347.83,281.02 L348.53,281.21 L349.23,281.38 L349.93,281.55 L350.63,281.71 L351.32,281.86 L352.02,282.00 L352.72,282.13 L353.42,282.25 L354.12,282.37 L354.82,282.48 L355.52,282.58 L356.21,282.68 L356.91,282.77 L357.61,282.85 L358.31,282.93 L359.01,283.00 L359.71,283.07 L360.40,283.13 L361.10,283.19 L361.80,283.24 L362.50,283.30" fill="none" stroke="#6ab4ec" stroke-width="1.2"/>
<rect x="223.50" y="180.70" width="139.00" height="103.20" stroke="#3c3c3c" stroke-width="1.45" fill="none"/>
<path d="M223.50,283.90 L221.50,283.90 M223.50,272.51 L222.30,272.51 M223.50,261.12 L221.50,261.12 M223.50,249.73 L222.30,249.73 M223.50,238.34 L221.50,238.34 M223.50,226.95 L222.30,226.95 M223.50,215.56 L221.50,215.56 M223.50,204.16 L222.30,204.16 M223.50,192.77 L221.50,192.77" stroke="#222" stroke-width="0.9"/>
<text x="221.30" y="286.70" font-size="7.6" text-anchor="end" font-weight="normal" fill="#444" font-family='"Liberation Sans", sans-serif' >0</text>
<text x="221.30" y="263.92" font-size="7.6" text-anchor="end" font-weight="normal" fill="#444" font-family='"Liberation Sans", sans-serif' >10</text>
<text x="221.30" y="241.14" font-size="7.6" text-anchor="end" font-weight="normal" fill="#444" font-family='"Liberation Sans", sans-serif' >20</text>
<text x="221.30" y="218.36" font-size="7.6" text-anchor="end" font-weight="normal" fill="#444" font-family='"Liberation Sans", sans-serif' >30</text>
<text x="221.30" y="195.57" font-size="7.6" text-anchor="end" font-weight="normal" fill="#444" font-family='"Liberation Sans", sans-serif' >40</text>
<text x="223.50" y="291.50" font-size="7.6" text-anchor="middle" font-weight="normal" fill="#444" font-family='"Liberation Sans", sans-serif' >1</text>
<text x="269.83" y="291.50" font-size="7.6" text-anchor="middle" font-weight="normal" fill="#444" font-family='"Liberation Sans", sans-serif' >2</text>
<text x="316.17" y="291.50" font-size="7.6" text-anchor="middle" font-weight="normal" fill="#444" font-family='"Liberation Sans", sans-serif' >3</text>
<text x="362.50" y="291.50" font-size="7.6" text-anchor="middle" font-weight="normal" fill="#444" font-family='"Liberation Sans", sans-serif' >4</text>
<g transform="translate(211.10,232.7) rotate(-90)"><text x="0" y="0" text-anchor="middle" font-size="8.7" fill="#333" font-family='"Liberation Sans", sans-serif'>Counts</text></g>
<text x="270.0" y="301.2" font-size="8.5" fill="#333" font-family='"Liberation Sans", sans-serif'>&#956;<tspan font-size="6.2" dy="2">FE</tspan><tspan dy="-2"> (cm</tspan><tspan font-size="5.8" dy="-3">2</tspan><tspan dy="3">/Vs)</tspan></text>
<text x="302.8" y="190.0" font-size="6.73" fill="#444" font-family='"Liberation Sans", sans-serif'>Avg = 2.24 cm<tspan font-size="4.6" dy="-2.6">2</tspan><tspan dy="2.6">/Vs</tspan></text>
<text x="302.8" y="198.6" font-size="6.73" fill="#444" font-family='"Liberation Sans", sans-serif'>SD = 1.43 cm<tspan font-size="4.6" dy="-2.6">2</tspan><tspan dy="2.6">/Vs</tspan></text>
<rect x="402.60" y="274.79" width="17.45" height="9.11" fill="#bf78ea" stroke="#7a4aa0" stroke-width="0.8"/>
<rect x="420.05" y="261.12" width="17.45" height="22.78" fill="#bf78ea" stroke="#7a4aa0" stroke-width="0.8"/>
<rect x="437.50" y="195.05" width="17.45" height="88.85" fill="#bf78ea" stroke="#7a4aa0" stroke-width="0.8"/>
<rect x="454.95" y="192.77" width="17.45" height="91.13" fill="#bf78ea" stroke="#7a4aa0" stroke-width="0.8"/>
<rect x="472.40" y="242.89" width="17.45" height="41.01" fill="#bf78ea" stroke="#7a4aa0" stroke-width="0.8"/>
<rect x="489.85" y="270.23" width="17.45" height="13.67" fill="#bf78ea" stroke="#7a4aa0" stroke-width="0.8"/>
<rect x="507.30" y="274.79" width="17.45" height="9.11" fill="#bf78ea" stroke="#7a4aa0" stroke-width="0.8"/>
<rect x="524.75" y="274.79" width="17.45" height="9.11" fill="#bf78ea" stroke="#7a4aa0" stroke-width="0.8"/>
<path d="M402.60,279.38 L403.30,279.06 L404.00,278.71 L404.70,278.34 L405.41,277.96 L406.11,277.55 L406.81,277.11 L407.51,276.66 L408.21,276.18 L408.91,275.67 L409.62,275.14 L410.32,274.58 L411.02,274.00 L411.72,273.38 L412.42,272.74 L413.12,272.07 L413.82,271.37 L414.53,270.64 L415.23,269.87 L415.93,269.08 L416.63,268.25 L417.33,267.39 L418.03,266.50 L418.73,265.57 L419.44,264.61 L420.14,263.62 L420.84,262.59 L421.54,261.53 L422.24,260.44 L422.94,259.31 L423.65,258.16 L424.35,256.96 L425.05,255.74 L425.75,254.49 L426.45,253.20 L427.15,251.89 L427.85,250.54 L428.56,249.17 L429.26,247.77 L429.96,246.35 L430.66,244.90 L431.36,243.43 L432.06,241.94 L432.76,240.43 L433.47,238.90 L434.17,237.36 L434.87,235.80 L435.57,234.24 L436.27,232.66 L436.97,231.08 L437.68,229.50 L438.38,227.91 L439.08,226.32 L439.78,224.74 L440.48,223.17 L441.18,221.60 L441.88,220.05 L442.59,218.51 L443.29,216.99 L443.99,215.49 L444.69,214.01 L445.39,212.57 L446.09,211.15 L446.79,209.76 L447.50,208.41 L448.20,207.10 L448.90,205.84 L449.60,204.61 L450.30,203.43 L451.00,202.31 L451.71,201.23 L452.41,200.21 L453.11,199.25 L453.81,198.35 L454.51,197.50 L455.21,196.73 L455.91,196.01 L456.62,195.37 L457.32,194.79 L458.02,194.29 L458.72,193.85 L459.42,193.49 L460.12,193.20 L460.83,192.99 L461.53,192.84 L462.23,192.78 L462.93,192.79 L463.63,192.87 L464.33,193.03 L465.03,193.27 L465.74,193.58 L466.44,193.96 L467.14,194.41 L467.84,194.93 L468.54,195.53 L469.24,196.19 L469.94,196.92 L470.65,197.72 L471.35,198.57 L472.05,199.49 L472.75,200.47 L473.45,201.50 L474.15,202.59 L474.86,203.73 L475.56,204.92 L476.26,206.16 L476.96,207.44 L477.66,208.76 L478.36,210.12 L479.06,211.51 L479.77,212.94 L480.47,214.39 L481.17,215.87 L481.87,217.38 L482.57,218.90 L483.27,220.45 L483.97,222.00 L484.68,223.57 L485.38,225.15 L486.08,226.73 L486.78,228.32 L487.48,229.91 L488.18,231.49 L488.89,233.07 L489.59,234.64 L490.29,236.21 L490.99,237.76 L491.69,239.30 L492.39,240.82 L493.09,242.33 L493.80,243.81 L494.50,245.28 L495.20,246.72 L495.90,248.13 L496.60,249.53 L497.30,250.89 L498.01,252.23 L498.71,253.53 L499.41,254.81 L500.11,256.06 L500.81,257.27 L501.51,258.46 L502.21,259.61 L502.92,260.73 L503.62,261.81 L504.32,262.86 L505.02,263.88 L505.72,264.86 L506.42,265.81 L507.12,266.73 L507.83,267.62 L508.53,268.47 L509.23,269.29 L509.93,270.07 L510.63,270.83 L511.33,271.55 L512.04,272.25 L512.74,272.91 L513.44,273.54 L514.14,274.15 L514.84,274.73 L515.54,275.28 L516.24,275.80 L516.95,276.30 L517.65,276.78 L518.35,277.23 L519.05,277.65 L519.75,278.06 L520.45,278.44 L521.15,278.80 L521.86,279.14 L522.56,279.47 L523.26,279.77 L523.96,280.06 L524.66,280.33 L525.36,280.58 L526.07,280.82 L526.77,281.04 L527.47,281.25 L528.17,281.45 L528.87,281.63 L529.57,281.80 L530.27,281.96 L530.98,282.11 L531.68,282.25 L532.38,282.38 L533.08,282.50 L533.78,282.61 L534.48,282.71 L535.18,282.81 L535.89,282.90 L536.59,282.98 L537.29,283.06 L537.99,283.13 L538.69,283.20 L539.39,283.26 L540.10,283.31 L540.80,283.36 L541.50,283.41 L542.20,283.46" fill="none" stroke="#1c1ca8" stroke-width="1.5"/>
<rect x="402.60" y="180.70" width="139.60" height="103.20" stroke="#3c3c3c" stroke-width="1.45" fill="none"/>
<path d="M402.60,283.90 L400.60,283.90 M402.60,272.51 L401.40,272.51 M402.60,261.12 L400.60,261.12 M402.60,249.73 L401.40,249.73 M402.60,238.34 L400.60,238.34 M402.60,226.95 L401.40,226.95 M402.60,215.56 L400.60,215.56 M402.60,204.16 L401.40,204.16 M402.60,192.77 L400.60,192.77" stroke="#222" stroke-width="0.9"/>
<text x="400.40" y="286.70" font-size="7.6" text-anchor="end" font-weight="normal" fill="#444" font-family='"Liberation Sans", sans-serif' >0</text>
<text x="400.40" y="263.92" font-size="7.6" text-anchor="end" font-weight="normal" fill="#444" font-family='"Liberation Sans", sans-serif' >10</text>
<text x="400.40" y="241.14" font-size="7.6" text-anchor="end" font-weight="normal" fill="#444" font-family='"Liberation Sans", sans-serif' >20</text>
<text x="400.40" y="218.36" font-size="7.6" text-anchor="end" font-weight="normal" fill="#444" font-family='"Liberation Sans", sans-serif' >30</text>
<text x="400.40" y="195.57" font-size="7.6" text-anchor="end" font-weight="normal" fill="#444" font-family='"Liberation Sans", sans-serif' >40</text>
<text x="402.60" y="291.50" font-size="7.6" text-anchor="middle" font-weight="normal" fill="#444" font-family='"Liberation Sans", sans-serif' >4</text>
<text x="437.50" y="291.50" font-size="7.6" text-anchor="middle" font-weight="normal" fill="#444" font-family='"Liberation Sans", sans-serif' >5</text>
<text x="472.40" y="291.50" font-size="7.6" text-anchor="middle" font-weight="normal" fill="#444" font-family='"Liberation Sans", sans-serif' >6</text>
<text x="507.30" y="291.50" font-size="7.6" text-anchor="middle" font-weight="normal" fill="#444" font-family='"Liberation Sans", sans-serif' >7</text>
<text x="542.20" y="291.50" font-size="7.6" text-anchor="middle" font-weight="normal" fill="#444" font-family='"Liberation Sans", sans-serif' >8</text>
<g transform="translate(390.20,232.7) rotate(-90)"><text x="0" y="0" text-anchor="middle" font-size="8.7" fill="#333" font-family='"Liberation Sans", sans-serif'>Counts</text></g>
<text x="460.4" y="299.6" font-size="8.2" fill="#333" font-family='"Liberation Sans", sans-serif'>V<tspan font-size="5.8" dy="2">th</tspan><tspan dy="-2"> (V)</tspan></text>
<text x="496.3" y="189.8" font-size="7.15" fill="#444" font-family='"Liberation Sans", sans-serif'>Avg = 6.45 V</text>
<text x="496.3" y="198.0" font-size="7.15" fill="#444" font-family='"Liberation Sans", sans-serif'>SD = 1.43 V</text>
</svg></body></html>
